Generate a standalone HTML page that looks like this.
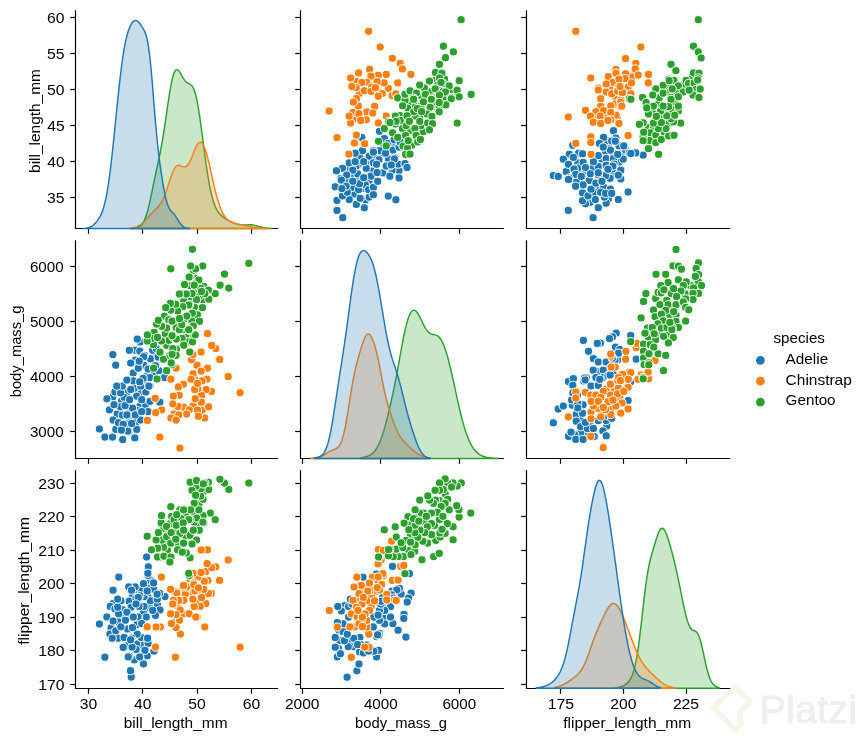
<!DOCTYPE html>
<html><head><meta charset="utf-8"><title>pairplot</title>
<style>
html,body{margin:0;padding:0;background:#fff;}
body{width:864px;height:741px;overflow:hidden;font-family:"Liberation Sans",sans-serif;}
svg{display:block;will-change:transform}
text{font-family:"Liberation Sans",sans-serif;font-size:14.3px;fill:#000}
</style></head><body>
<svg width="864" height="741" viewBox="0 0 864 741">
<rect width="864" height="741" fill="#fff"/>
<g opacity="1">
<path d="M735,687.5 L713,707.3 L735,729.5 L741.5,723.4 M735,687.5 L750,701.6 L740.2,711.4 L740.2,720" fill="none" stroke="#f3f7e8" stroke-width="5.6" stroke-linejoin="round" stroke-linecap="round"/>
<text x="759.5" y="722.5" style="font-size:38.5px;fill:#eeeeee;stroke:#eeeeee;stroke-width:0.8" textLength="97.5" lengthAdjust="spacingAndGlyphs">Platzi</text>
</g>
<g fill="#1f77b4" stroke="#fff" stroke-width="1.0">
<circle cx="365.6" cy="199.9" r="4.1"/>
<circle cx="349.7" cy="178.4" r="4.1"/>
<circle cx="380.2" cy="155.5" r="4.1"/>
<circle cx="369.0" cy="181.3" r="4.1"/>
<circle cx="388.4" cy="158.7" r="4.1"/>
<circle cx="382.7" cy="172.9" r="4.1"/>
<circle cx="394.9" cy="145.6" r="4.1"/>
<circle cx="353.5" cy="194.2" r="4.1"/>
<circle cx="371.9" cy="171.0" r="4.1"/>
<circle cx="374.2" cy="157.5" r="4.1"/>
<circle cx="362.9" cy="188.3" r="4.1"/>
<circle cx="352.9" cy="175.6" r="4.1"/>
<circle cx="368.4" cy="162.1" r="4.1"/>
<circle cx="359.0" cy="163.9" r="4.1"/>
<circle cx="399.0" cy="170.6" r="4.1"/>
<circle cx="358.5" cy="179.3" r="4.1"/>
<circle cx="346.4" cy="181.6" r="4.1"/>
<circle cx="355.9" cy="167.3" r="4.1"/>
<circle cx="347.5" cy="169.5" r="4.1"/>
<circle cx="392.0" cy="170.2" r="4.1"/>
<circle cx="365.4" cy="184.8" r="4.1"/>
<circle cx="383.2" cy="147.2" r="4.1"/>
<circle cx="352.7" cy="187.3" r="4.1"/>
<circle cx="379.5" cy="131.3" r="4.1"/>
<circle cx="361.9" cy="137.6" r="4.1"/>
<circle cx="359.5" cy="156.2" r="4.1"/>
<circle cx="369.2" cy="156.2" r="4.1"/>
<circle cx="379.5" cy="150.7" r="4.1"/>
<circle cx="378.9" cy="159.8" r="4.1"/>
<circle cx="392.9" cy="150.1" r="4.1"/>
<circle cx="389.8" cy="165.9" r="4.1"/>
<circle cx="398.3" cy="164.1" r="4.1"/>
<circle cx="405.0" cy="163.5" r="4.1"/>
<circle cx="349.2" cy="162.9" r="4.1"/>
<circle cx="342.5" cy="168.3" r="4.1"/>
<circle cx="336.4" cy="170.8" r="4.1"/>
<circle cx="357.7" cy="173.8" r="4.1"/>
<circle cx="366.2" cy="168.3" r="4.1"/>
<circle cx="352.8" cy="170.2" r="4.1"/>
<circle cx="371.0" cy="176.2" r="4.1"/>
<circle cx="389.8" cy="176.2" r="4.1"/>
<circle cx="399.0" cy="178.0" r="4.1"/>
<circle cx="340.6" cy="178.7" r="4.1"/>
<circle cx="384.4" cy="138.6" r="4.1"/>
<circle cx="388.0" cy="143.4" r="4.1"/>
<circle cx="399.0" cy="147.1" r="4.1"/>
<circle cx="373.4" cy="150.7" r="4.1"/>
<circle cx="362.5" cy="150.7" r="4.1"/>
<circle cx="355.2" cy="153.2" r="4.1"/>
<circle cx="373.4" cy="162.9" r="4.1"/>
<circle cx="363.7" cy="161.7" r="4.1"/>
<circle cx="355.2" cy="161.7" r="4.1"/>
<circle cx="377.1" cy="172.6" r="4.1"/>
<circle cx="346.7" cy="175.0" r="4.1"/>
<circle cx="395.3" cy="158.0" r="4.1"/>
<circle cx="385.6" cy="153.2" r="4.1"/>
<circle cx="394.1" cy="139.8" r="4.1"/>
<circle cx="400.2" cy="142.2" r="4.1"/>
<circle cx="342.8" cy="217.7" r="4.1"/>
<circle cx="337.0" cy="210.4" r="4.1"/>
<circle cx="337.0" cy="200.4" r="4.1"/>
<circle cx="335.2" cy="186.8" r="4.1"/>
<circle cx="356.4" cy="204.4" r="4.1"/>
<circle cx="364.3" cy="207.8" r="4.1"/>
<circle cx="349.2" cy="199.5" r="4.1"/>
<circle cx="342.5" cy="195.9" r="4.1"/>
<circle cx="369.2" cy="197.1" r="4.1"/>
<circle cx="388.3" cy="196.1" r="4.1"/>
<circle cx="395.9" cy="199.8" r="4.1"/>
<circle cx="347.3" cy="192.2" r="4.1"/>
<circle cx="358.6" cy="189.6" r="4.1"/>
<circle cx="368.6" cy="189.6" r="4.1"/>
<circle cx="341.3" cy="180.1" r="4.1"/>
<circle cx="359.5" cy="183.7" r="4.1"/>
<circle cx="352.8" cy="181.3" r="4.1"/>
<circle cx="373.4" cy="187.4" r="4.1"/>
<circle cx="376.5" cy="164.3" r="4.1"/>
<circle cx="377.7" cy="181.3" r="4.1"/>
<circle cx="373.4" cy="194.7" r="4.1"/>
<circle cx="360.1" cy="198.3" r="4.1"/>
<circle cx="346.1" cy="186.2" r="4.1"/>
<circle cx="373.4" cy="152.1" r="4.1"/>
<circle cx="386.2" cy="166.1" r="4.1"/>
<circle cx="363.7" cy="177.7" r="4.1"/>
<circle cx="341.9" cy="188.6" r="4.1"/>
<circle cx="394.3" cy="159.0" r="4.1"/>
<circle cx="391.2" cy="165.0" r="4.1"/>
<circle cx="407.0" cy="167.5" r="4.1"/>
</g>
<g fill="#ff7f0e" stroke="#fff" stroke-width="1.0">
<circle cx="358.3" cy="105.9" r="4.1"/>
<circle cx="359.3" cy="93.4" r="4.1"/>
<circle cx="388.3" cy="88.3" r="4.1"/>
<circle cx="356.1" cy="81.5" r="4.1"/>
<circle cx="353.5" cy="118.8" r="4.1"/>
<circle cx="378.0" cy="91.6" r="4.1"/>
<circle cx="368.6" cy="31.3" r="4.1"/>
<circle cx="380.2" cy="47.0" r="4.1"/>
<circle cx="392.3" cy="58.3" r="4.1"/>
<circle cx="400.2" cy="63.4" r="4.1"/>
<circle cx="402.4" cy="68.9" r="4.1"/>
<circle cx="410.9" cy="74.4" r="4.1"/>
<circle cx="369.6" cy="69.3" r="4.1"/>
<circle cx="358.6" cy="72.9" r="4.1"/>
<circle cx="350.6" cy="78.0" r="4.1"/>
<circle cx="386.2" cy="74.4" r="4.1"/>
<circle cx="378.3" cy="75.3" r="4.1"/>
<circle cx="371.0" cy="76.2" r="4.1"/>
<circle cx="384.1" cy="82.9" r="4.1"/>
<circle cx="397.7" cy="82.9" r="4.1"/>
<circle cx="366.8" cy="82.3" r="4.1"/>
<circle cx="361.9" cy="82.6" r="4.1"/>
<circle cx="356.2" cy="87.7" r="4.1"/>
<circle cx="351.8" cy="86.5" r="4.1"/>
<circle cx="371.6" cy="87.1" r="4.1"/>
<circle cx="364.3" cy="90.8" r="4.1"/>
<circle cx="371.0" cy="91.4" r="4.1"/>
<circle cx="382.2" cy="93.6" r="4.1"/>
<circle cx="378.3" cy="96.2" r="4.1"/>
<circle cx="392.3" cy="95.6" r="4.1"/>
<circle cx="395.9" cy="93.8" r="4.1"/>
<circle cx="356.4" cy="98.7" r="4.1"/>
<circle cx="377.1" cy="81.7" r="4.1"/>
<circle cx="375.3" cy="87.7" r="4.1"/>
<circle cx="329.1" cy="111.0" r="4.1"/>
<circle cx="353.4" cy="102.1" r="4.1"/>
<circle cx="374.7" cy="106.4" r="4.1"/>
<circle cx="366.8" cy="111.9" r="4.1"/>
<circle cx="352.8" cy="112.5" r="4.1"/>
<circle cx="358.9" cy="113.7" r="4.1"/>
<circle cx="372.8" cy="113.1" r="4.1"/>
<circle cx="366.2" cy="119.8" r="4.1"/>
<circle cx="360.7" cy="120.4" r="4.1"/>
<circle cx="350.6" cy="123.0" r="4.1"/>
<circle cx="378.3" cy="123.0" r="4.1"/>
<circle cx="386.2" cy="116.1" r="4.1"/>
<circle cx="356.4" cy="135.2" r="4.1"/>
<circle cx="337.0" cy="137.6" r="4.1"/>
<circle cx="354.4" cy="143.1" r="4.1"/>
<circle cx="364.7" cy="143.7" r="4.1"/>
<circle cx="348.9" cy="154.1" r="4.1"/>
<circle cx="349.1" cy="116.1" r="4.1"/>
</g>
<g fill="#2ca02c" stroke="#fff" stroke-width="1.0">
<circle cx="423.3" cy="131.7" r="4.1"/>
<circle cx="436.0" cy="97.4" r="4.1"/>
<circle cx="445.1" cy="97.1" r="4.1"/>
<circle cx="411.9" cy="145.2" r="4.1"/>
<circle cx="429.9" cy="91.9" r="4.1"/>
<circle cx="419.8" cy="115.8" r="4.1"/>
<circle cx="441.9" cy="89.0" r="4.1"/>
<circle cx="399.8" cy="115.5" r="4.1"/>
<circle cx="434.5" cy="106.0" r="4.1"/>
<circle cx="421.1" cy="105.8" r="4.1"/>
<circle cx="420.8" cy="125.7" r="4.1"/>
<circle cx="413.5" cy="104.6" r="4.1"/>
<circle cx="408.6" cy="97.5" r="4.1"/>
<circle cx="420.4" cy="95.4" r="4.1"/>
<circle cx="402.5" cy="128.5" r="4.1"/>
<circle cx="415.1" cy="115.9" r="4.1"/>
<circle cx="408.0" cy="103.3" r="4.1"/>
<circle cx="410.7" cy="130.3" r="4.1"/>
<circle cx="403.1" cy="146.1" r="4.1"/>
<circle cx="444.5" cy="79.0" r="4.1"/>
<circle cx="453.7" cy="93.8" r="4.1"/>
<circle cx="424.3" cy="87.9" r="4.1"/>
<circle cx="439.2" cy="107.0" r="4.1"/>
<circle cx="406.1" cy="125.6" r="4.1"/>
<circle cx="435.0" cy="80.4" r="4.1"/>
<circle cx="437.8" cy="85.1" r="4.1"/>
<circle cx="450.4" cy="91.0" r="4.1"/>
<circle cx="397.7" cy="97.9" r="4.1"/>
<circle cx="405.0" cy="100.3" r="4.1"/>
<circle cx="405.0" cy="94.3" r="4.1"/>
<circle cx="395.3" cy="116.1" r="4.1"/>
<circle cx="388.6" cy="121.6" r="4.1"/>
<circle cx="384.4" cy="128.6" r="4.1"/>
<circle cx="392.6" cy="132.8" r="4.1"/>
<circle cx="378.5" cy="141.3" r="4.1"/>
<circle cx="386.2" cy="145.9" r="4.1"/>
<circle cx="405.6" cy="135.5" r="4.1"/>
<circle cx="407.5" cy="148.3" r="4.1"/>
<circle cx="405.6" cy="154.4" r="4.1"/>
<circle cx="397.7" cy="137.4" r="4.1"/>
<circle cx="407.5" cy="108.2" r="4.1"/>
<circle cx="402.6" cy="105.8" r="4.1"/>
<circle cx="408.0" cy="119.2" r="4.1"/>
<circle cx="400.2" cy="120.4" r="4.1"/>
<circle cx="395.3" cy="124.0" r="4.1"/>
<circle cx="461.1" cy="19.7" r="4.1"/>
<circle cx="443.4" cy="46.2" r="4.1"/>
<circle cx="453.4" cy="51.9" r="4.1"/>
<circle cx="445.5" cy="57.7" r="4.1"/>
<circle cx="439.5" cy="64.3" r="4.1"/>
<circle cx="435.5" cy="72.6" r="4.1"/>
<circle cx="441.9" cy="73.2" r="4.1"/>
<circle cx="439.5" cy="78.0" r="4.1"/>
<circle cx="429.5" cy="81.1" r="4.1"/>
<circle cx="459.2" cy="80.7" r="4.1"/>
<circle cx="419.7" cy="85.1" r="4.1"/>
<circle cx="443.1" cy="83.5" r="4.1"/>
<circle cx="449.2" cy="85.9" r="4.1"/>
<circle cx="435.2" cy="88.9" r="4.1"/>
<circle cx="457.1" cy="90.2" r="4.1"/>
<circle cx="471.1" cy="94.4" r="4.1"/>
<circle cx="445.5" cy="92.0" r="4.1"/>
<circle cx="410.0" cy="90.8" r="4.1"/>
<circle cx="416.4" cy="93.2" r="4.1"/>
<circle cx="425.5" cy="94.4" r="4.1"/>
<circle cx="439.5" cy="95.0" r="4.1"/>
<circle cx="451.0" cy="97.5" r="4.1"/>
<circle cx="459.2" cy="96.8" r="4.1"/>
<circle cx="413.4" cy="98.1" r="4.1"/>
<circle cx="431.6" cy="98.1" r="4.1"/>
<circle cx="457.2" cy="123.1" r="4.1"/>
<circle cx="451.3" cy="98.8" r="4.1"/>
<circle cx="445.9" cy="104.9" r="4.1"/>
<circle cx="439.2" cy="102.5" r="4.1"/>
<circle cx="439.2" cy="111.8" r="4.1"/>
<circle cx="431.3" cy="99.4" r="4.1"/>
<circle cx="423.4" cy="101.9" r="4.1"/>
<circle cx="413.7" cy="99.4" r="4.1"/>
<circle cx="430.1" cy="107.3" r="4.1"/>
<circle cx="427.0" cy="114.0" r="4.1"/>
<circle cx="413.7" cy="111.8" r="4.1"/>
<circle cx="417.3" cy="108.5" r="4.1"/>
<circle cx="407.0" cy="115.8" r="4.1"/>
<circle cx="409.4" cy="121.3" r="4.1"/>
<circle cx="419.8" cy="121.3" r="4.1"/>
<circle cx="427.7" cy="123.1" r="4.1"/>
<circle cx="431.9" cy="116.4" r="4.1"/>
<circle cx="432.5" cy="123.7" r="4.1"/>
<circle cx="429.5" cy="129.8" r="4.1"/>
<circle cx="414.9" cy="128.6" r="4.1"/>
<circle cx="396.1" cy="121.3" r="4.1"/>
<circle cx="416.1" cy="135.3" r="4.1"/>
<circle cx="417.7" cy="141.9" r="4.1"/>
<circle cx="420.4" cy="139.5" r="4.1"/>
<circle cx="410.0" cy="154.1" r="4.1"/>
<circle cx="408.2" cy="140.7" r="4.1"/>
<circle cx="441.0" cy="82.4" r="4.1"/>
<circle cx="421.6" cy="111.6" r="4.1"/>
<circle cx="390.0" cy="122.5" r="4.1"/>
</g>
<g fill="#1f77b4" stroke="#fff" stroke-width="1.0">
<circle cx="582.5" cy="192.8" r="4.1"/>
<circle cx="566.3" cy="171.5" r="4.1"/>
<circle cx="576.7" cy="181.0" r="4.1"/>
<circle cx="577.8" cy="162.9" r="4.1"/>
<circle cx="608.0" cy="145.7" r="4.1"/>
<circle cx="622.6" cy="153.2" r="4.1"/>
<circle cx="601.8" cy="159.0" r="4.1"/>
<circle cx="597.5" cy="189.0" r="4.1"/>
<circle cx="605.4" cy="151.2" r="4.1"/>
<circle cx="594.8" cy="192.8" r="4.1"/>
<circle cx="613.8" cy="173.8" r="4.1"/>
<circle cx="590.2" cy="202.2" r="4.1"/>
<circle cx="607.2" cy="140.7" r="4.1"/>
<circle cx="592.6" cy="168.3" r="4.1"/>
<circle cx="613.2" cy="153.2" r="4.1"/>
<circle cx="589.4" cy="180.5" r="4.1"/>
<circle cx="610.1" cy="178.4" r="4.1"/>
<circle cx="603.7" cy="187.1" r="4.1"/>
<circle cx="618.5" cy="166.6" r="4.1"/>
<circle cx="569.3" cy="154.3" r="4.1"/>
<circle cx="608.4" cy="199.1" r="4.1"/>
<circle cx="578.2" cy="168.2" r="4.1"/>
<circle cx="618.9" cy="162.1" r="4.1"/>
<circle cx="613.5" cy="130.7" r="4.1"/>
<circle cx="617.1" cy="117.7" r="4.1"/>
<circle cx="603.5" cy="137.4" r="4.1"/>
<circle cx="615.9" cy="138.0" r="4.1"/>
<circle cx="572.8" cy="145.3" r="4.1"/>
<circle cx="599.5" cy="143.4" r="4.1"/>
<circle cx="610.4" cy="150.1" r="4.1"/>
<circle cx="625.6" cy="150.1" r="4.1"/>
<circle cx="578.6" cy="153.2" r="4.1"/>
<circle cx="573.4" cy="157.4" r="4.1"/>
<circle cx="563.3" cy="159.2" r="4.1"/>
<circle cx="598.3" cy="155.6" r="4.1"/>
<circle cx="606.2" cy="158.6" r="4.1"/>
<circle cx="613.5" cy="158.6" r="4.1"/>
<circle cx="623.2" cy="159.2" r="4.1"/>
<circle cx="568.5" cy="164.3" r="4.1"/>
<circle cx="583.1" cy="162.3" r="4.1"/>
<circle cx="585.5" cy="167.7" r="4.1"/>
<circle cx="598.3" cy="166.5" r="4.1"/>
<circle cx="574.0" cy="169.0" r="4.1"/>
<circle cx="575.8" cy="174.4" r="4.1"/>
<circle cx="553.4" cy="175.6" r="4.1"/>
<circle cx="558.2" cy="176.5" r="4.1"/>
<circle cx="590.4" cy="173.8" r="4.1"/>
<circle cx="605.6" cy="175.6" r="4.1"/>
<circle cx="612.3" cy="169.0" r="4.1"/>
<circle cx="620.8" cy="170.2" r="4.1"/>
<circle cx="619.6" cy="177.5" r="4.1"/>
<circle cx="569.1" cy="178.1" r="4.1"/>
<circle cx="611.7" cy="141.0" r="4.1"/>
<circle cx="619.0" cy="145.9" r="4.1"/>
<circle cx="603.2" cy="147.1" r="4.1"/>
<circle cx="582.5" cy="153.8" r="4.1"/>
<circle cx="593.4" cy="161.7" r="4.1"/>
<circle cx="606.2" cy="165.3" r="4.1"/>
<circle cx="614.1" cy="164.1" r="4.1"/>
<circle cx="623.8" cy="145.9" r="4.1"/>
<circle cx="629.3" cy="153.2" r="4.1"/>
<circle cx="617.7" cy="154.4" r="4.1"/>
<circle cx="582.5" cy="175.0" r="4.1"/>
<circle cx="598.3" cy="175.0" r="4.1"/>
<circle cx="593.1" cy="217.7" r="4.1"/>
<circle cx="568.3" cy="210.4" r="4.1"/>
<circle cx="598.3" cy="207.7" r="4.1"/>
<circle cx="585.5" cy="203.8" r="4.1"/>
<circle cx="582.5" cy="200.7" r="4.1"/>
<circle cx="606.2" cy="203.2" r="4.1"/>
<circle cx="618.3" cy="199.5" r="4.1"/>
<circle cx="628.1" cy="192.0" r="4.1"/>
<circle cx="595.3" cy="199.5" r="4.1"/>
<circle cx="604.4" cy="197.1" r="4.1"/>
<circle cx="588.0" cy="195.9" r="4.1"/>
<circle cx="600.7" cy="192.2" r="4.1"/>
<circle cx="610.4" cy="189.2" r="4.1"/>
<circle cx="591.0" cy="189.2" r="4.1"/>
<circle cx="583.1" cy="184.9" r="4.1"/>
<circle cx="575.6" cy="186.2" r="4.1"/>
<circle cx="595.9" cy="183.1" r="4.1"/>
<circle cx="620.8" cy="178.9" r="4.1"/>
<circle cx="618.3" cy="175.2" r="4.1"/>
<circle cx="568.5" cy="179.5" r="4.1"/>
<circle cx="581.3" cy="176.4" r="4.1"/>
<circle cx="612.9" cy="166.1" r="4.1"/>
<circle cx="601.9" cy="181.3" r="4.1"/>
<circle cx="598.3" cy="172.8" r="4.1"/>
<circle cx="608.0" cy="169.2" r="4.1"/>
<circle cx="615.3" cy="141.2" r="4.1"/>
<circle cx="605.6" cy="193.4" r="4.1"/>
<circle cx="611.7" cy="193.4" r="4.1"/>
<circle cx="649.2" cy="131.6" r="4.1"/>
<circle cx="643.1" cy="155.1" r="4.1"/>
<circle cx="635.8" cy="152.9" r="4.1"/>
<circle cx="630.9" cy="153.5" r="4.1"/>
</g>
<g fill="#ff7f0e" stroke="#fff" stroke-width="1.0">
<circle cx="616.2" cy="99.4" r="4.1"/>
<circle cx="615.7" cy="103.9" r="4.1"/>
<circle cx="600.7" cy="106.3" r="4.1"/>
<circle cx="616.1" cy="115.2" r="4.1"/>
<circle cx="609.7" cy="88.2" r="4.1"/>
<circle cx="594.6" cy="117.6" r="4.1"/>
<circle cx="632.3" cy="76.8" r="4.1"/>
<circle cx="625.5" cy="97.5" r="4.1"/>
<circle cx="607.1" cy="115.5" r="4.1"/>
<circle cx="575.8" cy="31.3" r="4.1"/>
<circle cx="625.6" cy="58.6" r="4.1"/>
<circle cx="590.8" cy="78.0" r="4.1"/>
<circle cx="615.9" cy="69.5" r="4.1"/>
<circle cx="615.9" cy="73.2" r="4.1"/>
<circle cx="608.3" cy="76.6" r="4.1"/>
<circle cx="625.6" cy="73.8" r="4.1"/>
<circle cx="625.0" cy="78.6" r="4.1"/>
<circle cx="612.9" cy="82.3" r="4.1"/>
<circle cx="606.2" cy="84.1" r="4.1"/>
<circle cx="598.3" cy="88.1" r="4.1"/>
<circle cx="618.3" cy="87.1" r="4.1"/>
<circle cx="606.2" cy="92.0" r="4.1"/>
<circle cx="611.7" cy="93.8" r="4.1"/>
<circle cx="628.1" cy="87.1" r="4.1"/>
<circle cx="623.8" cy="92.6" r="4.1"/>
<circle cx="600.7" cy="98.7" r="4.1"/>
<circle cx="620.8" cy="99.9" r="4.1"/>
<circle cx="619.0" cy="79.2" r="4.1"/>
<circle cx="568.3" cy="117.0" r="4.1"/>
<circle cx="585.5" cy="110.3" r="4.1"/>
<circle cx="595.9" cy="111.6" r="4.1"/>
<circle cx="603.5" cy="110.6" r="4.1"/>
<circle cx="610.8" cy="105.8" r="4.1"/>
<circle cx="610.8" cy="112.5" r="4.1"/>
<circle cx="620.8" cy="102.1" r="4.1"/>
<circle cx="620.8" cy="107.0" r="4.1"/>
<circle cx="590.4" cy="116.1" r="4.1"/>
<circle cx="600.1" cy="116.1" r="4.1"/>
<circle cx="593.4" cy="122.2" r="4.1"/>
<circle cx="600.7" cy="123.4" r="4.1"/>
<circle cx="610.8" cy="119.8" r="4.1"/>
<circle cx="619.0" cy="123.4" r="4.1"/>
<circle cx="628.1" cy="135.5" r="4.1"/>
<circle cx="590.8" cy="136.8" r="4.1"/>
<circle cx="590.8" cy="142.5" r="4.1"/>
<circle cx="575.8" cy="143.4" r="4.1"/>
<circle cx="591.0" cy="154.4" r="4.1"/>
<circle cx="598.3" cy="90.0" r="4.1"/>
<circle cx="617.7" cy="91.2" r="4.1"/>
<circle cx="608.0" cy="120.4" r="4.1"/>
<circle cx="640.9" cy="47.0" r="4.1"/>
<circle cx="635.8" cy="63.4" r="4.1"/>
<circle cx="635.2" cy="68.9" r="4.1"/>
<circle cx="638.2" cy="75.0" r="4.1"/>
<circle cx="648.5" cy="74.4" r="4.1"/>
<circle cx="648.3" cy="82.9" r="4.1"/>
<circle cx="631.5" cy="82.9" r="4.1"/>
<circle cx="630.9" cy="93.8" r="4.1"/>
<circle cx="622.4" cy="92.6" r="4.1"/>
<circle cx="620.0" cy="86.5" r="4.1"/>
<circle cx="621.8" cy="106.1" r="4.1"/>
</g>
<g fill="#2ca02c" stroke="#fff" stroke-width="1.0">
<circle cx="683.4" cy="85.3" r="4.1"/>
<circle cx="648.2" cy="127.6" r="4.1"/>
<circle cx="668.1" cy="123.7" r="4.1"/>
<circle cx="692.4" cy="77.2" r="4.1"/>
<circle cx="653.3" cy="128.5" r="4.1"/>
<circle cx="650.3" cy="132.8" r="4.1"/>
<circle cx="674.3" cy="103.1" r="4.1"/>
<circle cx="667.7" cy="85.6" r="4.1"/>
<circle cx="658.8" cy="103.3" r="4.1"/>
<circle cx="659.4" cy="97.5" r="4.1"/>
<circle cx="664.5" cy="133.0" r="4.1"/>
<circle cx="649.7" cy="140.5" r="4.1"/>
<circle cx="676.6" cy="92.6" r="4.1"/>
<circle cx="662.0" cy="118.0" r="4.1"/>
<circle cx="671.8" cy="109.5" r="4.1"/>
<circle cx="653.0" cy="113.2" r="4.1"/>
<circle cx="669.2" cy="92.4" r="4.1"/>
<circle cx="665.1" cy="109.8" r="4.1"/>
<circle cx="629.3" cy="98.7" r="4.1"/>
<circle cx="698.3" cy="19.7" r="4.1"/>
<circle cx="693.5" cy="46.2" r="4.1"/>
<circle cx="698.3" cy="51.9" r="4.1"/>
<circle cx="701.1" cy="58.0" r="4.1"/>
<circle cx="671.0" cy="64.3" r="4.1"/>
<circle cx="675.9" cy="70.7" r="4.1"/>
<circle cx="693.5" cy="72.9" r="4.1"/>
<circle cx="699.0" cy="73.2" r="4.1"/>
<circle cx="698.3" cy="78.0" r="4.1"/>
<circle cx="668.6" cy="79.2" r="4.1"/>
<circle cx="674.0" cy="80.4" r="4.1"/>
<circle cx="686.2" cy="80.4" r="4.1"/>
<circle cx="663.1" cy="85.3" r="4.1"/>
<circle cx="678.3" cy="85.9" r="4.1"/>
<circle cx="688.6" cy="83.5" r="4.1"/>
<circle cx="694.1" cy="82.9" r="4.1"/>
<circle cx="655.8" cy="88.9" r="4.1"/>
<circle cx="672.2" cy="88.9" r="4.1"/>
<circle cx="695.9" cy="89.6" r="4.1"/>
<circle cx="663.1" cy="93.2" r="4.1"/>
<circle cx="683.2" cy="92.0" r="4.1"/>
<circle cx="652.8" cy="95.0" r="4.1"/>
<circle cx="642.5" cy="97.5" r="4.1"/>
<circle cx="671.0" cy="97.5" r="4.1"/>
<circle cx="678.3" cy="96.8" r="4.1"/>
<circle cx="692.9" cy="95.0" r="4.1"/>
<circle cx="699.0" cy="97.5" r="4.1"/>
<circle cx="630.9" cy="99.3" r="4.1"/>
<circle cx="700.2" cy="89.0" r="4.1"/>
<circle cx="689.2" cy="90.2" r="4.1"/>
<circle cx="658.6" cy="154.3" r="4.1"/>
<circle cx="648.5" cy="148.6" r="4.1"/>
<circle cx="643.1" cy="137.1" r="4.1"/>
<circle cx="643.1" cy="140.7" r="4.1"/>
<circle cx="643.7" cy="132.2" r="4.1"/>
<circle cx="655.8" cy="135.3" r="4.1"/>
<circle cx="655.8" cy="142.6" r="4.1"/>
<circle cx="661.3" cy="139.5" r="4.1"/>
<circle cx="668.6" cy="135.9" r="4.1"/>
<circle cx="674.0" cy="135.3" r="4.1"/>
<circle cx="665.9" cy="128.6" r="4.1"/>
<circle cx="658.3" cy="128.6" r="4.1"/>
<circle cx="680.7" cy="123.1" r="4.1"/>
<circle cx="643.1" cy="122.8" r="4.1"/>
<circle cx="639.4" cy="124.3" r="4.1"/>
<circle cx="653.4" cy="123.1" r="4.1"/>
<circle cx="661.3" cy="122.5" r="4.1"/>
<circle cx="673.4" cy="121.9" r="4.1"/>
<circle cx="671.0" cy="118.9" r="4.1"/>
<circle cx="666.8" cy="115.8" r="4.1"/>
<circle cx="648.5" cy="114.0" r="4.1"/>
<circle cx="660.7" cy="111.0" r="4.1"/>
<circle cx="678.3" cy="111.0" r="4.1"/>
<circle cx="653.4" cy="106.1" r="4.1"/>
<circle cx="646.1" cy="102.5" r="4.1"/>
<circle cx="671.0" cy="99.4" r="4.1"/>
<circle cx="669.2" cy="80.6" r="4.1"/>
<circle cx="697.7" cy="80.0" r="4.1"/>
<circle cx="668.6" cy="106.7" r="4.1"/>
<circle cx="663.1" cy="106.1" r="4.1"/>
<circle cx="674.7" cy="115.2" r="4.1"/>
<circle cx="656.4" cy="116.4" r="4.1"/>
<circle cx="646.7" cy="107.9" r="4.1"/>
<circle cx="678.3" cy="106.1" r="4.1"/>
</g>
<g fill="#1f77b4" stroke="#fff" stroke-width="1.0">
<circle cx="112.8" cy="397.0" r="4.1"/>
<circle cx="129.0" cy="419.3" r="4.1"/>
<circle cx="146.4" cy="376.6" r="4.1"/>
<circle cx="126.8" cy="392.2" r="4.1"/>
<circle cx="143.9" cy="365.2" r="4.1"/>
<circle cx="133.2" cy="373.0" r="4.1"/>
<circle cx="153.8" cy="356.0" r="4.1"/>
<circle cx="117.1" cy="414.0" r="4.1"/>
<circle cx="134.6" cy="388.2" r="4.1"/>
<circle cx="144.8" cy="384.9" r="4.1"/>
<circle cx="121.6" cy="400.9" r="4.1"/>
<circle cx="131.2" cy="414.8" r="4.1"/>
<circle cx="141.3" cy="393.1" r="4.1"/>
<circle cx="140.0" cy="406.3" r="4.1"/>
<circle cx="134.9" cy="350.2" r="4.1"/>
<circle cx="128.4" cy="407.0" r="4.1"/>
<circle cx="126.6" cy="423.9" r="4.1"/>
<circle cx="137.4" cy="410.6" r="4.1"/>
<circle cx="135.8" cy="422.3" r="4.1"/>
<circle cx="135.3" cy="360.1" r="4.1"/>
<circle cx="124.2" cy="397.3" r="4.1"/>
<circle cx="152.6" cy="372.4" r="4.1"/>
<circle cx="122.3" cy="415.1" r="4.1"/>
<circle cx="164.6" cy="377.6" r="4.1"/>
<circle cx="159.8" cy="402.2" r="4.1"/>
<circle cx="145.8" cy="405.6" r="4.1"/>
<circle cx="145.8" cy="392.0" r="4.1"/>
<circle cx="150.0" cy="377.6" r="4.1"/>
<circle cx="143.1" cy="378.4" r="4.1"/>
<circle cx="150.4" cy="358.8" r="4.1"/>
<circle cx="138.5" cy="363.1" r="4.1"/>
<circle cx="139.8" cy="351.2" r="4.1"/>
<circle cx="140.3" cy="341.9" r="4.1"/>
<circle cx="140.7" cy="420.0" r="4.1"/>
<circle cx="136.7" cy="429.4" r="4.1"/>
<circle cx="134.8" cy="437.9" r="4.1"/>
<circle cx="132.5" cy="408.1" r="4.1"/>
<circle cx="136.7" cy="396.2" r="4.1"/>
<circle cx="135.2" cy="414.9" r="4.1"/>
<circle cx="130.7" cy="389.5" r="4.1"/>
<circle cx="130.7" cy="363.1" r="4.1"/>
<circle cx="129.4" cy="350.3" r="4.1"/>
<circle cx="128.8" cy="432.0" r="4.1"/>
<circle cx="159.1" cy="370.7" r="4.1"/>
<circle cx="155.5" cy="365.7" r="4.1"/>
<circle cx="152.7" cy="350.3" r="4.1"/>
<circle cx="150.0" cy="386.1" r="4.1"/>
<circle cx="150.0" cy="401.4" r="4.1"/>
<circle cx="148.1" cy="411.6" r="4.1"/>
<circle cx="140.7" cy="386.1" r="4.1"/>
<circle cx="141.7" cy="399.7" r="4.1"/>
<circle cx="141.7" cy="411.6" r="4.1"/>
<circle cx="133.4" cy="380.9" r="4.1"/>
<circle cx="131.6" cy="423.5" r="4.1"/>
<circle cx="144.4" cy="355.4" r="4.1"/>
<circle cx="148.1" cy="369.0" r="4.1"/>
<circle cx="158.2" cy="357.1" r="4.1"/>
<circle cx="156.4" cy="348.6" r="4.1"/>
<circle cx="99.4" cy="429.0" r="4.1"/>
<circle cx="104.9" cy="437.1" r="4.1"/>
<circle cx="112.5" cy="437.1" r="4.1"/>
<circle cx="122.7" cy="439.6" r="4.1"/>
<circle cx="109.4" cy="409.9" r="4.1"/>
<circle cx="106.9" cy="398.8" r="4.1"/>
<circle cx="113.1" cy="420.0" r="4.1"/>
<circle cx="115.8" cy="429.4" r="4.1"/>
<circle cx="114.9" cy="392.0" r="4.1"/>
<circle cx="115.7" cy="365.2" r="4.1"/>
<circle cx="112.9" cy="354.6" r="4.1"/>
<circle cx="118.6" cy="422.7" r="4.1"/>
<circle cx="120.6" cy="406.8" r="4.1"/>
<circle cx="120.6" cy="392.8" r="4.1"/>
<circle cx="127.8" cy="431.1" r="4.1"/>
<circle cx="125.1" cy="405.6" r="4.1"/>
<circle cx="126.9" cy="414.9" r="4.1"/>
<circle cx="122.3" cy="386.1" r="4.1"/>
<circle cx="139.7" cy="381.8" r="4.1"/>
<circle cx="126.9" cy="380.1" r="4.1"/>
<circle cx="116.8" cy="386.1" r="4.1"/>
<circle cx="114.0" cy="404.7" r="4.1"/>
<circle cx="123.2" cy="424.3" r="4.1"/>
<circle cx="148.9" cy="386.1" r="4.1"/>
<circle cx="138.3" cy="368.2" r="4.1"/>
<circle cx="129.6" cy="399.7" r="4.1"/>
<circle cx="121.4" cy="430.2" r="4.1"/>
<circle cx="143.7" cy="356.8" r="4.1"/>
<circle cx="139.2" cy="361.2" r="4.1"/>
<circle cx="137.3" cy="339.1" r="4.1"/>
</g>
<g fill="#ff7f0e" stroke="#fff" stroke-width="1.0">
<circle cx="183.8" cy="407.2" r="4.1"/>
<circle cx="193.2" cy="405.9" r="4.1"/>
<circle cx="197.0" cy="365.2" r="4.1"/>
<circle cx="202.2" cy="410.3" r="4.1"/>
<circle cx="174.0" cy="413.9" r="4.1"/>
<circle cx="194.6" cy="379.6" r="4.1"/>
<circle cx="240.1" cy="392.8" r="4.1"/>
<circle cx="228.2" cy="376.6" r="4.1"/>
<circle cx="219.7" cy="359.6" r="4.1"/>
<circle cx="215.8" cy="348.6" r="4.1"/>
<circle cx="211.7" cy="345.5" r="4.1"/>
<circle cx="207.5" cy="333.6" r="4.1"/>
<circle cx="211.4" cy="391.4" r="4.1"/>
<circle cx="208.7" cy="406.8" r="4.1"/>
<circle cx="204.8" cy="418.0" r="4.1"/>
<circle cx="207.5" cy="368.2" r="4.1"/>
<circle cx="206.9" cy="379.2" r="4.1"/>
<circle cx="206.2" cy="389.5" r="4.1"/>
<circle cx="201.1" cy="371.1" r="4.1"/>
<circle cx="201.1" cy="352.1" r="4.1"/>
<circle cx="201.6" cy="395.3" r="4.1"/>
<circle cx="201.3" cy="402.2" r="4.1"/>
<circle cx="197.5" cy="410.2" r="4.1"/>
<circle cx="198.4" cy="416.3" r="4.1"/>
<circle cx="197.9" cy="388.6" r="4.1"/>
<circle cx="195.2" cy="398.8" r="4.1"/>
<circle cx="194.7" cy="389.5" r="4.1"/>
<circle cx="193.0" cy="373.8" r="4.1"/>
<circle cx="191.1" cy="379.2" r="4.1"/>
<circle cx="191.5" cy="359.6" r="4.1"/>
<circle cx="192.9" cy="354.6" r="4.1"/>
<circle cx="189.2" cy="409.9" r="4.1"/>
<circle cx="202.0" cy="380.9" r="4.1"/>
<circle cx="197.5" cy="383.4" r="4.1"/>
<circle cx="179.9" cy="448.1" r="4.1"/>
<circle cx="186.6" cy="414.1" r="4.1"/>
<circle cx="183.4" cy="384.3" r="4.1"/>
<circle cx="179.2" cy="395.3" r="4.1"/>
<circle cx="178.8" cy="414.9" r="4.1"/>
<circle cx="177.9" cy="406.4" r="4.1"/>
<circle cx="178.3" cy="386.9" r="4.1"/>
<circle cx="173.3" cy="396.2" r="4.1"/>
<circle cx="172.8" cy="403.9" r="4.1"/>
<circle cx="170.9" cy="418.0" r="4.1"/>
<circle cx="170.9" cy="379.2" r="4.1"/>
<circle cx="176.1" cy="368.2" r="4.1"/>
<circle cx="161.7" cy="409.9" r="4.1"/>
<circle cx="159.8" cy="437.1" r="4.1"/>
<circle cx="155.7" cy="412.7" r="4.1"/>
<circle cx="155.2" cy="398.3" r="4.1"/>
<circle cx="147.4" cy="420.4" r="4.1"/>
<circle cx="176.1" cy="420.1" r="4.1"/>
</g>
<g fill="#2ca02c" stroke="#fff" stroke-width="1.0">
<circle cx="164.3" cy="316.2" r="4.1"/>
<circle cx="190.1" cy="298.4" r="4.1"/>
<circle cx="190.4" cy="285.7" r="4.1"/>
<circle cx="154.1" cy="332.3" r="4.1"/>
<circle cx="194.4" cy="307.0" r="4.1"/>
<circle cx="176.3" cy="321.2" r="4.1"/>
<circle cx="196.5" cy="290.2" r="4.1"/>
<circle cx="176.5" cy="349.1" r="4.1"/>
<circle cx="183.7" cy="300.5" r="4.1"/>
<circle cx="183.8" cy="319.4" r="4.1"/>
<circle cx="168.8" cy="319.7" r="4.1"/>
<circle cx="184.7" cy="329.9" r="4.1"/>
<circle cx="190.1" cy="336.8" r="4.1"/>
<circle cx="191.7" cy="320.4" r="4.1"/>
<circle cx="166.7" cy="345.4" r="4.1"/>
<circle cx="176.2" cy="327.8" r="4.1"/>
<circle cx="185.8" cy="337.6" r="4.1"/>
<circle cx="165.3" cy="333.9" r="4.1"/>
<circle cx="153.4" cy="344.6" r="4.1"/>
<circle cx="204.0" cy="286.5" r="4.1"/>
<circle cx="192.9" cy="273.6" r="4.1"/>
<circle cx="197.4" cy="314.8" r="4.1"/>
<circle cx="182.9" cy="294.0" r="4.1"/>
<circle cx="168.9" cy="340.3" r="4.1"/>
<circle cx="203.0" cy="299.9" r="4.1"/>
<circle cx="199.4" cy="296.0" r="4.1"/>
<circle cx="195.0" cy="278.3" r="4.1"/>
<circle cx="189.8" cy="352.1" r="4.1"/>
<circle cx="188.0" cy="341.9" r="4.1"/>
<circle cx="192.5" cy="341.9" r="4.1"/>
<circle cx="176.1" cy="355.4" r="4.1"/>
<circle cx="171.9" cy="364.8" r="4.1"/>
<circle cx="166.6" cy="370.7" r="4.1"/>
<circle cx="163.5" cy="359.2" r="4.1"/>
<circle cx="157.0" cy="379.0" r="4.1"/>
<circle cx="153.6" cy="368.2" r="4.1"/>
<circle cx="161.4" cy="341.0" r="4.1"/>
<circle cx="151.8" cy="338.4" r="4.1"/>
<circle cx="147.2" cy="341.0" r="4.1"/>
<circle cx="160.0" cy="352.1" r="4.1"/>
<circle cx="182.0" cy="338.4" r="4.1"/>
<circle cx="183.8" cy="345.2" r="4.1"/>
<circle cx="173.7" cy="337.7" r="4.1"/>
<circle cx="172.8" cy="348.6" r="4.1"/>
<circle cx="170.1" cy="355.4" r="4.1"/>
<circle cx="248.8" cy="263.3" r="4.1"/>
<circle cx="228.8" cy="288.1" r="4.1"/>
<circle cx="224.5" cy="274.1" r="4.1"/>
<circle cx="220.1" cy="285.2" r="4.1"/>
<circle cx="215.2" cy="293.6" r="4.1"/>
<circle cx="208.9" cy="299.2" r="4.1"/>
<circle cx="208.4" cy="290.2" r="4.1"/>
<circle cx="204.8" cy="293.6" r="4.1"/>
<circle cx="202.5" cy="307.6" r="4.1"/>
<circle cx="202.8" cy="266.0" r="4.1"/>
<circle cx="199.5" cy="321.3" r="4.1"/>
<circle cx="200.7" cy="288.5" r="4.1"/>
<circle cx="198.9" cy="280.0" r="4.1"/>
<circle cx="196.6" cy="299.6" r="4.1"/>
<circle cx="195.6" cy="268.9" r="4.1"/>
<circle cx="192.4" cy="249.3" r="4.1"/>
<circle cx="194.2" cy="285.2" r="4.1"/>
<circle cx="195.2" cy="334.9" r="4.1"/>
<circle cx="193.3" cy="325.9" r="4.1"/>
<circle cx="192.4" cy="313.2" r="4.1"/>
<circle cx="192.0" cy="293.6" r="4.1"/>
<circle cx="190.1" cy="277.4" r="4.1"/>
<circle cx="190.6" cy="266.0" r="4.1"/>
<circle cx="189.6" cy="330.1" r="4.1"/>
<circle cx="189.6" cy="304.6" r="4.1"/>
<circle cx="170.8" cy="268.8" r="4.1"/>
<circle cx="189.1" cy="277.0" r="4.1"/>
<circle cx="184.5" cy="284.6" r="4.1"/>
<circle cx="186.3" cy="294.0" r="4.1"/>
<circle cx="179.3" cy="294.0" r="4.1"/>
<circle cx="188.7" cy="305.0" r="4.1"/>
<circle cx="186.8" cy="316.1" r="4.1"/>
<circle cx="188.7" cy="329.7" r="4.1"/>
<circle cx="182.7" cy="306.7" r="4.1"/>
<circle cx="177.6" cy="311.1" r="4.1"/>
<circle cx="179.3" cy="329.7" r="4.1"/>
<circle cx="181.8" cy="324.6" r="4.1"/>
<circle cx="176.3" cy="339.1" r="4.1"/>
<circle cx="172.1" cy="335.7" r="4.1"/>
<circle cx="172.1" cy="321.1" r="4.1"/>
<circle cx="170.8" cy="310.1" r="4.1"/>
<circle cx="175.8" cy="304.2" r="4.1"/>
<circle cx="170.3" cy="303.4" r="4.1"/>
<circle cx="165.7" cy="307.6" r="4.1"/>
<circle cx="166.6" cy="328.0" r="4.1"/>
<circle cx="172.1" cy="354.3" r="4.1"/>
<circle cx="161.6" cy="326.3" r="4.1"/>
<circle cx="156.6" cy="324.1" r="4.1"/>
<circle cx="158.4" cy="320.3" r="4.1"/>
<circle cx="147.4" cy="334.9" r="4.1"/>
<circle cx="157.5" cy="337.4" r="4.1"/>
<circle cx="201.5" cy="291.5" r="4.1"/>
<circle cx="179.5" cy="318.6" r="4.1"/>
<circle cx="171.2" cy="362.9" r="4.1"/>
</g>
<g fill="#1f77b4" stroke="#fff" stroke-width="1.0">
<circle cx="577.5" cy="395.4" r="4.1"/>
<circle cx="589.8" cy="423.0" r="4.1"/>
<circle cx="597.6" cy="371.8" r="4.1"/>
<circle cx="613.3" cy="366.1" r="4.1"/>
<circle cx="580.4" cy="419.2" r="4.1"/>
<circle cx="588.6" cy="434.4" r="4.1"/>
<circle cx="607.9" cy="368.9" r="4.1"/>
<circle cx="606.8" cy="426.1" r="4.1"/>
<circle cx="580.8" cy="432.6" r="4.1"/>
<circle cx="572.3" cy="405.2" r="4.1"/>
<circle cx="613.1" cy="353.8" r="4.1"/>
<circle cx="574.8" cy="434.9" r="4.1"/>
<circle cx="553.4" cy="422.8" r="4.1"/>
<circle cx="558.2" cy="409.0" r="4.1"/>
<circle cx="563.3" cy="406.0" r="4.1"/>
<circle cx="568.5" cy="381.5" r="4.1"/>
<circle cx="573.4" cy="378.7" r="4.1"/>
<circle cx="573.4" cy="387.2" r="4.1"/>
<circle cx="568.5" cy="436.4" r="4.1"/>
<circle cx="571.0" cy="432.1" r="4.1"/>
<circle cx="575.8" cy="439.4" r="4.1"/>
<circle cx="583.1" cy="439.4" r="4.1"/>
<circle cx="576.2" cy="414.5" r="4.1"/>
<circle cx="576.2" cy="421.2" r="4.1"/>
<circle cx="578.9" cy="407.2" r="4.1"/>
<circle cx="583.1" cy="404.8" r="4.1"/>
<circle cx="580.7" cy="426.7" r="4.1"/>
<circle cx="583.7" cy="381.1" r="4.1"/>
<circle cx="586.2" cy="377.5" r="4.1"/>
<circle cx="593.4" cy="358.6" r="4.1"/>
<circle cx="598.3" cy="362.0" r="4.1"/>
<circle cx="606.2" cy="362.0" r="4.1"/>
<circle cx="593.2" cy="370.2" r="4.1"/>
<circle cx="603.2" cy="370.2" r="4.1"/>
<circle cx="598.3" cy="381.1" r="4.1"/>
<circle cx="595.9" cy="377.5" r="4.1"/>
<circle cx="591.0" cy="386.0" r="4.1"/>
<circle cx="603.2" cy="377.5" r="4.1"/>
<circle cx="628.1" cy="400.5" r="4.1"/>
<circle cx="619.6" cy="402.4" r="4.1"/>
<circle cx="587.4" cy="428.5" r="4.1"/>
<circle cx="593.4" cy="428.5" r="4.1"/>
<circle cx="602.9" cy="430.9" r="4.1"/>
<circle cx="606.2" cy="435.8" r="4.1"/>
<circle cx="606.2" cy="420.6" r="4.1"/>
<circle cx="582.5" cy="413.3" r="4.1"/>
<circle cx="585.5" cy="422.4" r="4.1"/>
<circle cx="571.6" cy="399.9" r="4.1"/>
<circle cx="612.9" cy="359.9" r="4.1"/>
<circle cx="617.7" cy="359.9" r="4.1"/>
<circle cx="612.9" cy="373.2" r="4.1"/>
<circle cx="608.0" cy="375.6" r="4.1"/>
<circle cx="572.8" cy="385.4" r="4.1"/>
<circle cx="598.3" cy="385.4" r="4.1"/>
<circle cx="577.7" cy="403.6" r="4.1"/>
<circle cx="598.3" cy="420.6" r="4.1"/>
<circle cx="608.0" cy="415.7" r="4.1"/>
<circle cx="611.7" cy="418.2" r="4.1"/>
<circle cx="583.4" cy="340.4" r="4.1"/>
<circle cx="588.5" cy="351.3" r="4.1"/>
<circle cx="600.4" cy="343.1" r="4.1"/>
<circle cx="597.3" cy="343.4" r="4.1"/>
<circle cx="616.2" cy="333.1" r="4.1"/>
<circle cx="612.5" cy="336.8" r="4.1"/>
<circle cx="609.5" cy="338.6" r="4.1"/>
<circle cx="630.7" cy="335.5" r="4.1"/>
<circle cx="615.5" cy="347.1" r="4.1"/>
<circle cx="619.8" cy="349.5" r="4.1"/>
<circle cx="618.6" cy="353.2" r="4.1"/>
<circle cx="614.9" cy="360.4" r="4.1"/>
<circle cx="636.2" cy="359.2" r="4.1"/>
<circle cx="584.6" cy="378.1" r="4.1"/>
<circle cx="599.8" cy="379.3" r="4.1"/>
<circle cx="610.1" cy="375.0" r="4.1"/>
<circle cx="612.5" cy="358.0" r="4.1"/>
<circle cx="630.5" cy="381.8" r="4.1"/>
<circle cx="577.8" cy="408.0" r="4.1"/>
<circle cx="585.1" cy="380.0" r="4.1"/>
<circle cx="594.2" cy="436.5" r="4.1"/>
<circle cx="610.6" cy="408.6" r="4.1"/>
<circle cx="572.9" cy="392.8" r="4.1"/>
</g>
<g fill="#ff7f0e" stroke="#fff" stroke-width="1.0">
<circle cx="601.7" cy="412.5" r="4.1"/>
<circle cx="613.9" cy="388.7" r="4.1"/>
<circle cx="610.7" cy="409.7" r="4.1"/>
<circle cx="619.8" cy="397.7" r="4.1"/>
<circle cx="622.0" cy="403.0" r="4.1"/>
<circle cx="568.3" cy="416.9" r="4.1"/>
<circle cx="575.8" cy="392.0" r="4.1"/>
<circle cx="575.8" cy="398.1" r="4.1"/>
<circle cx="585.5" cy="392.4" r="4.1"/>
<circle cx="590.8" cy="395.1" r="4.1"/>
<circle cx="595.9" cy="395.1" r="4.1"/>
<circle cx="591.0" cy="412.1" r="4.1"/>
<circle cx="591.0" cy="418.8" r="4.1"/>
<circle cx="590.8" cy="436.4" r="4.1"/>
<circle cx="600.7" cy="416.9" r="4.1"/>
<circle cx="598.3" cy="408.4" r="4.1"/>
<circle cx="595.9" cy="402.4" r="4.1"/>
<circle cx="606.2" cy="389.0" r="4.1"/>
<circle cx="610.4" cy="395.1" r="4.1"/>
<circle cx="608.0" cy="401.8" r="4.1"/>
<circle cx="615.9" cy="406.0" r="4.1"/>
<circle cx="610.8" cy="414.5" r="4.1"/>
<circle cx="620.8" cy="413.1" r="4.1"/>
<circle cx="628.1" cy="409.0" r="4.1"/>
<circle cx="618.3" cy="387.8" r="4.1"/>
<circle cx="617.7" cy="393.9" r="4.1"/>
<circle cx="625.0" cy="379.3" r="4.1"/>
<circle cx="628.1" cy="387.2" r="4.1"/>
<circle cx="610.4" cy="384.2" r="4.1"/>
<circle cx="615.3" cy="367.1" r="4.1"/>
<circle cx="611.1" cy="367.1" r="4.1"/>
<circle cx="625.6" cy="359.3" r="4.1"/>
<circle cx="611.1" cy="356.2" r="4.1"/>
<circle cx="629.3" cy="372.0" r="4.1"/>
<circle cx="622.6" cy="374.4" r="4.1"/>
<circle cx="617.7" cy="380.5" r="4.1"/>
<circle cx="603.2" cy="447.6" r="4.1"/>
<circle cx="603.2" cy="391.4" r="4.1"/>
<circle cx="600.7" cy="397.5" r="4.1"/>
<circle cx="593.4" cy="406.0" r="4.1"/>
<circle cx="605.6" cy="409.7" r="4.1"/>
<circle cx="623.8" cy="391.4" r="4.1"/>
<circle cx="610.7" cy="354.0" r="4.1"/>
<circle cx="625.9" cy="351.3" r="4.1"/>
<circle cx="636.2" cy="347.7" r="4.1"/>
<circle cx="636.8" cy="343.4" r="4.1"/>
<circle cx="630.7" cy="372.6" r="4.1"/>
<circle cx="641.1" cy="375.0" r="4.1"/>
<circle cx="647.7" cy="375.0" r="4.1"/>
<circle cx="655.0" cy="360.4" r="4.1"/>
<circle cx="618.6" cy="377.5" r="4.1"/>
<circle cx="628.3" cy="379.3" r="4.1"/>
<circle cx="638.0" cy="379.3" r="4.1"/>
<circle cx="648.7" cy="378.8" r="4.1"/>
<circle cx="648.1" cy="372.1" r="4.1"/>
<circle cx="591.2" cy="401.3" r="4.1"/>
<circle cx="598.4" cy="401.3" r="4.1"/>
<circle cx="620.3" cy="380.6" r="4.1"/>
<circle cx="603.3" cy="407.4" r="4.1"/>
<circle cx="613.0" cy="400.1" r="4.1"/>
</g>
<g fill="#2ca02c" stroke="#fff" stroke-width="1.0">
<circle cx="685.4" cy="293.9" r="4.1"/>
<circle cx="669.7" cy="314.6" r="4.1"/>
<circle cx="690.3" cy="285.4" r="4.1"/>
<circle cx="666.8" cy="300.3" r="4.1"/>
<circle cx="667.1" cy="333.9" r="4.1"/>
<circle cx="658.6" cy="334.1" r="4.1"/>
<circle cx="641.1" cy="317.9" r="4.1"/>
<circle cx="643.5" cy="301.5" r="4.1"/>
<circle cx="645.9" cy="293.6" r="4.1"/>
<circle cx="655.6" cy="298.5" r="4.1"/>
<circle cx="653.6" cy="310.0" r="4.1"/>
<circle cx="630.7" cy="341.6" r="4.1"/>
<circle cx="647.7" cy="329.5" r="4.1"/>
<circle cx="648.3" cy="336.8" r="4.1"/>
<circle cx="643.5" cy="344.1" r="4.1"/>
<circle cx="643.5" cy="351.3" r="4.1"/>
<circle cx="643.5" cy="358.0" r="4.1"/>
<circle cx="644.1" cy="364.7" r="4.1"/>
<circle cx="649.0" cy="353.8" r="4.1"/>
<circle cx="649.0" cy="362.9" r="4.1"/>
<circle cx="655.6" cy="339.8" r="4.1"/>
<circle cx="658.1" cy="353.8" r="4.1"/>
<circle cx="653.8" cy="332.5" r="4.1"/>
<circle cx="658.1" cy="326.4" r="4.1"/>
<circle cx="655.0" cy="316.7" r="4.1"/>
<circle cx="659.9" cy="304.6" r="4.1"/>
<circle cx="642.9" cy="377.5" r="4.1"/>
<circle cx="650.2" cy="344.7" r="4.1"/>
<circle cx="653.8" cy="347.1" r="4.1"/>
<circle cx="658.1" cy="292.4" r="4.1"/>
<circle cx="676.0" cy="249.5" r="4.1"/>
<circle cx="698.5" cy="262.8" r="4.1"/>
<circle cx="696.1" cy="268.5" r="4.1"/>
<circle cx="698.5" cy="274.6" r="4.1"/>
<circle cx="673.0" cy="265.9" r="4.1"/>
<circle cx="678.4" cy="266.1" r="4.1"/>
<circle cx="681.5" cy="269.2" r="4.1"/>
<circle cx="656.0" cy="274.3" r="4.1"/>
<circle cx="665.7" cy="274.3" r="4.1"/>
<circle cx="678.4" cy="279.8" r="4.1"/>
<circle cx="668.1" cy="282.5" r="4.1"/>
<circle cx="660.8" cy="285.5" r="4.1"/>
<circle cx="686.3" cy="281.9" r="4.1"/>
<circle cx="683.3" cy="285.5" r="4.1"/>
<circle cx="698.5" cy="281.9" r="4.1"/>
<circle cx="701.5" cy="285.5" r="4.1"/>
<circle cx="693.6" cy="288.0" r="4.1"/>
<circle cx="695.4" cy="276.4" r="4.1"/>
<circle cx="661.2" cy="292.8" r="4.1"/>
<circle cx="671.2" cy="293.4" r="4.1"/>
<circle cx="680.9" cy="291.0" r="4.1"/>
<circle cx="676.6" cy="296.5" r="4.1"/>
<circle cx="698.5" cy="293.4" r="4.1"/>
<circle cx="693.0" cy="293.4" r="4.1"/>
<circle cx="693.0" cy="299.5" r="4.1"/>
<circle cx="685.7" cy="298.9" r="4.1"/>
<circle cx="668.1" cy="304.7" r="4.1"/>
<circle cx="676.0" cy="304.7" r="4.1"/>
<circle cx="683.3" cy="301.9" r="4.1"/>
<circle cx="685.7" cy="307.4" r="4.1"/>
<circle cx="688.8" cy="309.8" r="4.1"/>
<circle cx="665.7" cy="310.4" r="4.1"/>
<circle cx="661.4" cy="314.1" r="4.1"/>
<circle cx="676.0" cy="315.3" r="4.1"/>
<circle cx="685.7" cy="321.1" r="4.1"/>
<circle cx="663.3" cy="320.8" r="4.1"/>
<circle cx="657.8" cy="323.8" r="4.1"/>
<circle cx="676.0" cy="321.4" r="4.1"/>
<circle cx="669.9" cy="323.8" r="4.1"/>
<circle cx="678.4" cy="327.5" r="4.1"/>
<circle cx="647.5" cy="328.1" r="4.1"/>
<circle cx="652.3" cy="327.5" r="4.1"/>
<circle cx="661.4" cy="328.1" r="4.1"/>
<circle cx="666.9" cy="327.5" r="4.1"/>
<circle cx="672.4" cy="328.1" r="4.1"/>
<circle cx="673.6" cy="288.6" r="4.1"/>
<circle cx="663.9" cy="289.8" r="4.1"/>
<circle cx="673.6" cy="311.7" r="4.1"/>
<circle cx="673.3" cy="337.5" r="4.1"/>
<circle cx="668.4" cy="342.9" r="4.1"/>
<circle cx="665.7" cy="355.4" r="4.1"/>
<circle cx="663.5" cy="370.6" r="4.1"/>
<circle cx="643.2" cy="378.8" r="4.1"/>
<circle cx="648.7" cy="364.8" r="4.1"/>
<circle cx="671.8" cy="329.6" r="4.1"/>
<circle cx="663.6" cy="336.3" r="4.1"/>
<circle cx="654.2" cy="333.8" r="4.1"/>
<circle cx="669.9" cy="322.3" r="4.1"/>
<circle cx="645.0" cy="333.2" r="4.1"/>
</g>
<g fill="#1f77b4" stroke="#fff" stroke-width="1.0">
<circle cx="118.2" cy="638.2" r="4.1"/>
<circle cx="134.3" cy="659.9" r="4.1"/>
<circle cx="127.1" cy="645.9" r="4.1"/>
<circle cx="140.7" cy="644.5" r="4.1"/>
<circle cx="153.8" cy="604.0" r="4.1"/>
<circle cx="148.1" cy="584.4" r="4.1"/>
<circle cx="143.7" cy="612.4" r="4.1"/>
<circle cx="121.1" cy="618.1" r="4.1"/>
<circle cx="149.5" cy="607.5" r="4.1"/>
<circle cx="118.2" cy="621.7" r="4.1"/>
<circle cx="132.5" cy="596.3" r="4.1"/>
<circle cx="111.1" cy="627.9" r="4.1"/>
<circle cx="157.5" cy="605.1" r="4.1"/>
<circle cx="136.7" cy="624.7" r="4.1"/>
<circle cx="148.0" cy="597.0" r="4.1"/>
<circle cx="127.5" cy="629.0" r="4.1"/>
<circle cx="129.1" cy="601.2" r="4.1"/>
<circle cx="122.5" cy="609.7" r="4.1"/>
<circle cx="137.9" cy="589.9" r="4.1"/>
<circle cx="147.2" cy="655.8" r="4.1"/>
<circle cx="113.4" cy="603.5" r="4.1"/>
<circle cx="136.7" cy="644.0" r="4.1"/>
<circle cx="141.4" cy="589.4" r="4.1"/>
<circle cx="165.0" cy="596.6" r="4.1"/>
<circle cx="174.9" cy="591.8" r="4.1"/>
<circle cx="160.0" cy="610.0" r="4.1"/>
<circle cx="159.5" cy="593.4" r="4.1"/>
<circle cx="154.0" cy="651.1" r="4.1"/>
<circle cx="155.5" cy="615.4" r="4.1"/>
<circle cx="150.4" cy="600.8" r="4.1"/>
<circle cx="150.4" cy="580.4" r="4.1"/>
<circle cx="148.1" cy="643.4" r="4.1"/>
<circle cx="144.9" cy="650.3" r="4.1"/>
<circle cx="143.5" cy="663.9" r="4.1"/>
<circle cx="146.3" cy="617.0" r="4.1"/>
<circle cx="144.0" cy="606.4" r="4.1"/>
<circle cx="144.0" cy="596.6" r="4.1"/>
<circle cx="143.5" cy="583.7" r="4.1"/>
<circle cx="139.7" cy="656.9" r="4.1"/>
<circle cx="141.2" cy="637.4" r="4.1"/>
<circle cx="137.1" cy="634.1" r="4.1"/>
<circle cx="138.0" cy="617.0" r="4.1"/>
<circle cx="136.1" cy="649.5" r="4.1"/>
<circle cx="132.1" cy="647.1" r="4.1"/>
<circle cx="131.2" cy="677.1" r="4.1"/>
<circle cx="130.5" cy="670.7" r="4.1"/>
<circle cx="132.5" cy="627.6" r="4.1"/>
<circle cx="131.2" cy="607.2" r="4.1"/>
<circle cx="136.1" cy="598.3" r="4.1"/>
<circle cx="135.2" cy="586.9" r="4.1"/>
<circle cx="129.7" cy="588.5" r="4.1"/>
<circle cx="129.3" cy="656.1" r="4.1"/>
<circle cx="157.3" cy="599.1" r="4.1"/>
<circle cx="153.6" cy="589.3" r="4.1"/>
<circle cx="152.7" cy="610.4" r="4.1"/>
<circle cx="147.6" cy="638.2" r="4.1"/>
<circle cx="141.7" cy="623.6" r="4.1"/>
<circle cx="138.9" cy="606.4" r="4.1"/>
<circle cx="139.8" cy="595.8" r="4.1"/>
<circle cx="153.6" cy="582.9" r="4.1"/>
<circle cx="148.1" cy="575.5" r="4.1"/>
<circle cx="147.2" cy="591.0" r="4.1"/>
<circle cx="131.6" cy="638.2" r="4.1"/>
<circle cx="131.6" cy="617.0" r="4.1"/>
<circle cx="99.4" cy="624.0" r="4.1"/>
<circle cx="104.9" cy="657.2" r="4.1"/>
<circle cx="106.9" cy="617.0" r="4.1"/>
<circle cx="109.9" cy="634.1" r="4.1"/>
<circle cx="112.2" cy="638.2" r="4.1"/>
<circle cx="110.3" cy="606.4" r="4.1"/>
<circle cx="113.1" cy="590.2" r="4.1"/>
<circle cx="118.8" cy="577.1" r="4.1"/>
<circle cx="113.1" cy="621.0" r="4.1"/>
<circle cx="114.9" cy="608.8" r="4.1"/>
<circle cx="115.8" cy="630.8" r="4.1"/>
<circle cx="118.6" cy="613.8" r="4.1"/>
<circle cx="120.9" cy="600.8" r="4.1"/>
<circle cx="120.9" cy="626.8" r="4.1"/>
<circle cx="124.1" cy="637.4" r="4.1"/>
<circle cx="123.2" cy="647.4" r="4.1"/>
<circle cx="125.5" cy="620.2" r="4.1"/>
<circle cx="128.7" cy="586.9" r="4.1"/>
<circle cx="131.5" cy="590.2" r="4.1"/>
<circle cx="128.2" cy="656.9" r="4.1"/>
<circle cx="130.6" cy="639.8" r="4.1"/>
<circle cx="138.3" cy="597.5" r="4.1"/>
<circle cx="126.9" cy="612.2" r="4.1"/>
<circle cx="133.3" cy="617.0" r="4.1"/>
<circle cx="136.0" cy="604.0" r="4.1"/>
<circle cx="157.1" cy="594.2" r="4.1"/>
<circle cx="117.7" cy="607.2" r="4.1"/>
<circle cx="117.7" cy="599.1" r="4.1"/>
<circle cx="164.4" cy="548.8" r="4.1"/>
<circle cx="146.6" cy="557.0" r="4.1"/>
<circle cx="148.3" cy="566.8" r="4.1"/>
<circle cx="147.8" cy="573.3" r="4.1"/>
</g>
<g fill="#ff7f0e" stroke="#fff" stroke-width="1.0">
<circle cx="188.7" cy="593.0" r="4.1"/>
<circle cx="185.2" cy="593.7" r="4.1"/>
<circle cx="183.4" cy="613.8" r="4.1"/>
<circle cx="176.8" cy="593.1" r="4.1"/>
<circle cx="197.1" cy="601.8" r="4.1"/>
<circle cx="174.9" cy="621.9" r="4.1"/>
<circle cx="205.8" cy="571.5" r="4.1"/>
<circle cx="190.1" cy="580.6" r="4.1"/>
<circle cx="176.5" cy="605.2" r="4.1"/>
<circle cx="240.1" cy="647.1" r="4.1"/>
<circle cx="219.5" cy="580.4" r="4.1"/>
<circle cx="204.8" cy="627.0" r="4.1"/>
<circle cx="211.2" cy="593.4" r="4.1"/>
<circle cx="208.4" cy="593.4" r="4.1"/>
<circle cx="205.9" cy="603.6" r="4.1"/>
<circle cx="208.0" cy="580.4" r="4.1"/>
<circle cx="204.4" cy="581.2" r="4.1"/>
<circle cx="201.6" cy="597.5" r="4.1"/>
<circle cx="200.2" cy="606.4" r="4.1"/>
<circle cx="197.2" cy="617.0" r="4.1"/>
<circle cx="197.9" cy="590.2" r="4.1"/>
<circle cx="194.2" cy="606.4" r="4.1"/>
<circle cx="192.9" cy="599.1" r="4.1"/>
<circle cx="197.9" cy="577.1" r="4.1"/>
<circle cx="193.8" cy="582.9" r="4.1"/>
<circle cx="189.2" cy="613.8" r="4.1"/>
<circle cx="188.3" cy="586.9" r="4.1"/>
<circle cx="203.9" cy="589.3" r="4.1"/>
<circle cx="175.4" cy="657.2" r="4.1"/>
<circle cx="180.4" cy="634.1" r="4.1"/>
<circle cx="179.5" cy="620.2" r="4.1"/>
<circle cx="180.2" cy="610.0" r="4.1"/>
<circle cx="183.8" cy="600.3" r="4.1"/>
<circle cx="178.8" cy="600.3" r="4.1"/>
<circle cx="186.6" cy="586.9" r="4.1"/>
<circle cx="182.9" cy="586.9" r="4.1"/>
<circle cx="176.1" cy="627.6" r="4.1"/>
<circle cx="176.1" cy="614.6" r="4.1"/>
<circle cx="171.5" cy="623.6" r="4.1"/>
<circle cx="170.6" cy="613.8" r="4.1"/>
<circle cx="173.3" cy="600.3" r="4.1"/>
<circle cx="170.6" cy="589.3" r="4.1"/>
<circle cx="161.4" cy="577.1" r="4.1"/>
<circle cx="160.4" cy="627.0" r="4.1"/>
<circle cx="156.1" cy="627.0" r="4.1"/>
<circle cx="155.5" cy="647.1" r="4.1"/>
<circle cx="147.2" cy="626.8" r="4.1"/>
<circle cx="195.8" cy="617.0" r="4.1"/>
<circle cx="194.9" cy="591.0" r="4.1"/>
<circle cx="172.8" cy="604.0" r="4.1"/>
<circle cx="228.2" cy="560.0" r="4.1"/>
<circle cx="215.8" cy="566.8" r="4.1"/>
<circle cx="211.7" cy="567.6" r="4.1"/>
<circle cx="207.1" cy="563.6" r="4.1"/>
<circle cx="207.5" cy="549.8" r="4.1"/>
<circle cx="201.1" cy="550.0" r="4.1"/>
<circle cx="201.1" cy="572.5" r="4.1"/>
<circle cx="192.9" cy="573.3" r="4.1"/>
<circle cx="193.8" cy="584.7" r="4.1"/>
<circle cx="198.4" cy="587.9" r="4.1"/>
<circle cx="183.6" cy="585.5" r="4.1"/>
</g>
<g fill="#2ca02c" stroke="#fff" stroke-width="1.0">
<circle cx="199.3" cy="503.1" r="4.1"/>
<circle cx="167.4" cy="550.1" r="4.1"/>
<circle cx="170.3" cy="523.6" r="4.1"/>
<circle cx="205.4" cy="491.0" r="4.1"/>
<circle cx="166.7" cy="543.4" r="4.1"/>
<circle cx="163.4" cy="547.3" r="4.1"/>
<circle cx="185.9" cy="515.2" r="4.1"/>
<circle cx="199.1" cy="524.1" r="4.1"/>
<circle cx="185.8" cy="535.9" r="4.1"/>
<circle cx="190.1" cy="535.2" r="4.1"/>
<circle cx="163.3" cy="528.3" r="4.1"/>
<circle cx="157.7" cy="548.2" r="4.1"/>
<circle cx="193.8" cy="512.1" r="4.1"/>
<circle cx="174.6" cy="531.8" r="4.1"/>
<circle cx="181.1" cy="518.6" r="4.1"/>
<circle cx="178.3" cy="543.8" r="4.1"/>
<circle cx="194.0" cy="522.1" r="4.1"/>
<circle cx="180.8" cy="527.6" r="4.1"/>
<circle cx="189.2" cy="575.5" r="4.1"/>
<circle cx="248.8" cy="483.1" r="4.1"/>
<circle cx="228.8" cy="489.5" r="4.1"/>
<circle cx="224.5" cy="483.1" r="4.1"/>
<circle cx="219.9" cy="479.3" r="4.1"/>
<circle cx="215.2" cy="519.7" r="4.1"/>
<circle cx="210.3" cy="513.1" r="4.1"/>
<circle cx="208.7" cy="489.5" r="4.1"/>
<circle cx="208.4" cy="482.2" r="4.1"/>
<circle cx="204.8" cy="483.1" r="4.1"/>
<circle cx="203.9" cy="522.9" r="4.1"/>
<circle cx="203.0" cy="515.6" r="4.1"/>
<circle cx="203.0" cy="499.3" r="4.1"/>
<circle cx="199.3" cy="530.2" r="4.1"/>
<circle cx="198.9" cy="509.9" r="4.1"/>
<circle cx="200.7" cy="496.1" r="4.1"/>
<circle cx="201.1" cy="488.7" r="4.1"/>
<circle cx="196.6" cy="540.0" r="4.1"/>
<circle cx="196.6" cy="518.0" r="4.1"/>
<circle cx="196.1" cy="486.3" r="4.1"/>
<circle cx="193.3" cy="530.2" r="4.1"/>
<circle cx="194.2" cy="503.3" r="4.1"/>
<circle cx="192.0" cy="544.0" r="4.1"/>
<circle cx="190.1" cy="557.8" r="4.1"/>
<circle cx="190.1" cy="519.7" r="4.1"/>
<circle cx="190.6" cy="509.9" r="4.1"/>
<circle cx="192.0" cy="490.3" r="4.1"/>
<circle cx="190.1" cy="482.2" r="4.1"/>
<circle cx="188.7" cy="573.3" r="4.1"/>
<circle cx="196.5" cy="480.6" r="4.1"/>
<circle cx="195.6" cy="495.3" r="4.1"/>
<circle cx="147.2" cy="536.3" r="4.1"/>
<circle cx="151.5" cy="549.8" r="4.1"/>
<circle cx="160.2" cy="557.0" r="4.1"/>
<circle cx="157.5" cy="557.0" r="4.1"/>
<circle cx="163.9" cy="556.2" r="4.1"/>
<circle cx="161.6" cy="540.0" r="4.1"/>
<circle cx="156.1" cy="540.0" r="4.1"/>
<circle cx="158.4" cy="532.6" r="4.1"/>
<circle cx="161.1" cy="522.9" r="4.1"/>
<circle cx="161.6" cy="515.6" r="4.1"/>
<circle cx="166.6" cy="526.5" r="4.1"/>
<circle cx="166.6" cy="536.7" r="4.1"/>
<circle cx="170.8" cy="506.7" r="4.1"/>
<circle cx="171.0" cy="557.0" r="4.1"/>
<circle cx="169.9" cy="562.0" r="4.1"/>
<circle cx="170.8" cy="543.2" r="4.1"/>
<circle cx="171.2" cy="532.6" r="4.1"/>
<circle cx="171.7" cy="516.4" r="4.1"/>
<circle cx="174.0" cy="519.7" r="4.1"/>
<circle cx="176.3" cy="525.3" r="4.1"/>
<circle cx="177.6" cy="549.8" r="4.1"/>
<circle cx="179.9" cy="533.4" r="4.1"/>
<circle cx="179.9" cy="509.9" r="4.1"/>
<circle cx="183.6" cy="543.2" r="4.1"/>
<circle cx="186.3" cy="553.0" r="4.1"/>
<circle cx="188.7" cy="519.7" r="4.1"/>
<circle cx="202.9" cy="522.1" r="4.1"/>
<circle cx="203.3" cy="483.9" r="4.1"/>
<circle cx="183.2" cy="522.9" r="4.1"/>
<circle cx="183.6" cy="530.2" r="4.1"/>
<circle cx="176.7" cy="514.7" r="4.1"/>
<circle cx="175.8" cy="539.2" r="4.1"/>
<circle cx="182.3" cy="552.2" r="4.1"/>
<circle cx="183.6" cy="509.9" r="4.1"/>
</g>
<g fill="#1f77b4" stroke="#fff" stroke-width="1.0">
<circle cx="366.6" cy="645.0" r="4.1"/>
<circle cx="346.9" cy="628.5" r="4.1"/>
<circle cx="383.4" cy="618.0" r="4.1"/>
<circle cx="387.5" cy="597.0" r="4.1"/>
<circle cx="349.6" cy="641.0" r="4.1"/>
<circle cx="338.8" cy="630.1" r="4.1"/>
<circle cx="385.6" cy="604.3" r="4.1"/>
<circle cx="344.7" cy="605.7" r="4.1"/>
<circle cx="340.1" cy="640.5" r="4.1"/>
<circle cx="359.6" cy="651.9" r="4.1"/>
<circle cx="396.3" cy="597.3" r="4.1"/>
<circle cx="338.4" cy="648.6" r="4.1"/>
<circle cx="347.1" cy="677.2" r="4.1"/>
<circle cx="356.9" cy="670.8" r="4.1"/>
<circle cx="359.0" cy="664.0" r="4.1"/>
<circle cx="376.5" cy="657.0" r="4.1"/>
<circle cx="378.5" cy="650.4" r="4.1"/>
<circle cx="372.5" cy="650.4" r="4.1"/>
<circle cx="337.3" cy="657.0" r="4.1"/>
<circle cx="340.4" cy="653.7" r="4.1"/>
<circle cx="335.2" cy="647.2" r="4.1"/>
<circle cx="335.2" cy="637.5" r="4.1"/>
<circle cx="353.0" cy="646.7" r="4.1"/>
<circle cx="348.2" cy="646.7" r="4.1"/>
<circle cx="358.2" cy="643.1" r="4.1"/>
<circle cx="359.9" cy="637.5" r="4.1"/>
<circle cx="344.3" cy="640.7" r="4.1"/>
<circle cx="376.8" cy="636.7" r="4.1"/>
<circle cx="379.4" cy="633.3" r="4.1"/>
<circle cx="392.9" cy="623.7" r="4.1"/>
<circle cx="390.5" cy="617.1" r="4.1"/>
<circle cx="390.5" cy="606.5" r="4.1"/>
<circle cx="384.6" cy="623.9" r="4.1"/>
<circle cx="384.6" cy="610.5" r="4.1"/>
<circle cx="376.8" cy="617.1" r="4.1"/>
<circle cx="379.4" cy="620.3" r="4.1"/>
<circle cx="373.3" cy="626.9" r="4.1"/>
<circle cx="379.4" cy="610.5" r="4.1"/>
<circle cx="363.0" cy="577.2" r="4.1"/>
<circle cx="361.6" cy="588.6" r="4.1"/>
<circle cx="343.0" cy="631.7" r="4.1"/>
<circle cx="343.0" cy="623.7" r="4.1"/>
<circle cx="341.3" cy="610.9" r="4.1"/>
<circle cx="337.8" cy="606.5" r="4.1"/>
<circle cx="348.6" cy="606.5" r="4.1"/>
<circle cx="353.8" cy="638.3" r="4.1"/>
<circle cx="347.3" cy="634.2" r="4.1"/>
<circle cx="363.4" cy="652.9" r="4.1"/>
<circle cx="392.0" cy="597.6" r="4.1"/>
<circle cx="392.0" cy="591.1" r="4.1"/>
<circle cx="382.5" cy="597.6" r="4.1"/>
<circle cx="380.8" cy="604.1" r="4.1"/>
<circle cx="373.8" cy="651.2" r="4.1"/>
<circle cx="373.8" cy="617.1" r="4.1"/>
<circle cx="360.8" cy="644.7" r="4.1"/>
<circle cx="348.6" cy="617.1" r="4.1"/>
<circle cx="352.1" cy="604.1" r="4.1"/>
<circle cx="350.3" cy="599.2" r="4.1"/>
<circle cx="405.9" cy="637.1" r="4.1"/>
<circle cx="398.1" cy="630.2" r="4.1"/>
<circle cx="404.0" cy="614.3" r="4.1"/>
<circle cx="403.8" cy="618.4" r="4.1"/>
<circle cx="411.1" cy="593.1" r="4.1"/>
<circle cx="408.5" cy="598.1" r="4.1"/>
<circle cx="407.2" cy="602.1" r="4.1"/>
<circle cx="409.4" cy="573.7" r="4.1"/>
<circle cx="401.1" cy="594.1" r="4.1"/>
<circle cx="399.4" cy="588.3" r="4.1"/>
<circle cx="396.8" cy="589.9" r="4.1"/>
<circle cx="391.6" cy="594.9" r="4.1"/>
<circle cx="392.5" cy="566.4" r="4.1"/>
<circle cx="379.0" cy="635.4" r="4.1"/>
<circle cx="378.1" cy="615.1" r="4.1"/>
<circle cx="381.2" cy="601.3" r="4.1"/>
<circle cx="393.3" cy="598.1" r="4.1"/>
<circle cx="376.3" cy="574.0" r="4.1"/>
<circle cx="357.6" cy="644.6" r="4.1"/>
<circle cx="377.6" cy="634.8" r="4.1"/>
<circle cx="337.3" cy="622.6" r="4.1"/>
<circle cx="357.2" cy="600.6" r="4.1"/>
<circle cx="368.5" cy="651.1" r="4.1"/>
</g>
<g fill="#ff7f0e" stroke="#fff" stroke-width="1.0">
<circle cx="354.4" cy="612.6" r="4.1"/>
<circle cx="371.4" cy="596.2" r="4.1"/>
<circle cx="356.4" cy="600.5" r="4.1"/>
<circle cx="365.0" cy="588.3" r="4.1"/>
<circle cx="361.2" cy="585.4" r="4.1"/>
<circle cx="351.3" cy="657.3" r="4.1"/>
<circle cx="369.0" cy="647.2" r="4.1"/>
<circle cx="364.7" cy="647.2" r="4.1"/>
<circle cx="368.8" cy="634.2" r="4.1"/>
<circle cx="366.8" cy="627.1" r="4.1"/>
<circle cx="366.8" cy="620.3" r="4.1"/>
<circle cx="354.7" cy="626.9" r="4.1"/>
<circle cx="349.9" cy="626.9" r="4.1"/>
<circle cx="337.3" cy="627.1" r="4.1"/>
<circle cx="351.3" cy="613.9" r="4.1"/>
<circle cx="357.3" cy="617.1" r="4.1"/>
<circle cx="361.6" cy="620.3" r="4.1"/>
<circle cx="371.2" cy="606.5" r="4.1"/>
<circle cx="366.8" cy="600.9" r="4.1"/>
<circle cx="362.0" cy="604.1" r="4.1"/>
<circle cx="359.0" cy="593.5" r="4.1"/>
<circle cx="353.0" cy="600.4" r="4.1"/>
<circle cx="354.0" cy="587.0" r="4.1"/>
<circle cx="356.9" cy="577.2" r="4.1"/>
<circle cx="372.0" cy="590.3" r="4.1"/>
<circle cx="367.7" cy="591.1" r="4.1"/>
<circle cx="378.1" cy="581.3" r="4.1"/>
<circle cx="372.5" cy="577.2" r="4.1"/>
<circle cx="374.6" cy="600.9" r="4.1"/>
<circle cx="386.8" cy="594.3" r="4.1"/>
<circle cx="386.8" cy="600.0" r="4.1"/>
<circle cx="392.4" cy="580.5" r="4.1"/>
<circle cx="394.6" cy="600.0" r="4.1"/>
<circle cx="383.3" cy="575.6" r="4.1"/>
<circle cx="381.6" cy="584.6" r="4.1"/>
<circle cx="377.3" cy="591.1" r="4.1"/>
<circle cx="329.3" cy="610.5" r="4.1"/>
<circle cx="369.5" cy="610.5" r="4.1"/>
<circle cx="365.1" cy="613.9" r="4.1"/>
<circle cx="359.0" cy="623.7" r="4.1"/>
<circle cx="356.4" cy="607.3" r="4.1"/>
<circle cx="369.5" cy="583.0" r="4.1"/>
<circle cx="396.2" cy="600.5" r="4.1"/>
<circle cx="398.1" cy="580.1" r="4.1"/>
<circle cx="400.7" cy="566.4" r="4.1"/>
<circle cx="403.8" cy="565.5" r="4.1"/>
<circle cx="382.9" cy="573.7" r="4.1"/>
<circle cx="381.2" cy="559.8" r="4.1"/>
<circle cx="381.2" cy="551.0" r="4.1"/>
<circle cx="391.6" cy="541.2" r="4.1"/>
<circle cx="379.4" cy="589.9" r="4.1"/>
<circle cx="378.1" cy="576.9" r="4.1"/>
<circle cx="378.1" cy="563.9" r="4.1"/>
<circle cx="378.5" cy="549.6" r="4.1"/>
<circle cx="383.3" cy="550.4" r="4.1"/>
<circle cx="362.4" cy="626.6" r="4.1"/>
<circle cx="362.4" cy="617.0" r="4.1"/>
<circle cx="377.2" cy="587.6" r="4.1"/>
<circle cx="358.0" cy="610.4" r="4.1"/>
<circle cx="363.3" cy="597.4" r="4.1"/>
</g>
<g fill="#2ca02c" stroke="#fff" stroke-width="1.0">
<circle cx="439.1" cy="500.4" r="4.1"/>
<circle cx="424.3" cy="521.4" r="4.1"/>
<circle cx="445.2" cy="493.9" r="4.1"/>
<circle cx="434.5" cy="525.4" r="4.1"/>
<circle cx="410.6" cy="524.9" r="4.1"/>
<circle cx="410.4" cy="536.4" r="4.1"/>
<circle cx="422.0" cy="559.8" r="4.1"/>
<circle cx="433.7" cy="556.6" r="4.1"/>
<circle cx="439.3" cy="553.4" r="4.1"/>
<circle cx="435.8" cy="540.4" r="4.1"/>
<circle cx="427.6" cy="543.1" r="4.1"/>
<circle cx="405.0" cy="573.7" r="4.1"/>
<circle cx="413.7" cy="551.0" r="4.1"/>
<circle cx="408.5" cy="550.1" r="4.1"/>
<circle cx="403.3" cy="556.6" r="4.1"/>
<circle cx="398.1" cy="556.6" r="4.1"/>
<circle cx="393.3" cy="556.6" r="4.1"/>
<circle cx="388.5" cy="555.8" r="4.1"/>
<circle cx="396.3" cy="549.2" r="4.1"/>
<circle cx="389.8" cy="549.2" r="4.1"/>
<circle cx="406.3" cy="540.4" r="4.1"/>
<circle cx="396.3" cy="537.0" r="4.1"/>
<circle cx="411.5" cy="542.8" r="4.1"/>
<circle cx="415.9" cy="537.0" r="4.1"/>
<circle cx="422.8" cy="541.2" r="4.1"/>
<circle cx="431.5" cy="534.6" r="4.1"/>
<circle cx="379.4" cy="557.4" r="4.1"/>
<circle cx="402.8" cy="547.6" r="4.1"/>
<circle cx="401.1" cy="542.8" r="4.1"/>
<circle cx="440.2" cy="537.0" r="4.1"/>
<circle cx="470.8" cy="513.1" r="4.1"/>
<circle cx="461.3" cy="482.9" r="4.1"/>
<circle cx="457.2" cy="486.1" r="4.1"/>
<circle cx="452.9" cy="482.9" r="4.1"/>
<circle cx="459.1" cy="517.1" r="4.1"/>
<circle cx="459.0" cy="509.8" r="4.1"/>
<circle cx="456.7" cy="505.7" r="4.1"/>
<circle cx="453.1" cy="539.8" r="4.1"/>
<circle cx="453.1" cy="526.8" r="4.1"/>
<circle cx="449.2" cy="509.8" r="4.1"/>
<circle cx="447.3" cy="523.6" r="4.1"/>
<circle cx="445.1" cy="533.4" r="4.1"/>
<circle cx="447.7" cy="499.3" r="4.1"/>
<circle cx="445.1" cy="503.3" r="4.1"/>
<circle cx="447.7" cy="482.9" r="4.1"/>
<circle cx="445.1" cy="478.9" r="4.1"/>
<circle cx="443.3" cy="489.5" r="4.1"/>
<circle cx="451.6" cy="487.1" r="4.1"/>
<circle cx="439.9" cy="532.9" r="4.1"/>
<circle cx="439.5" cy="519.5" r="4.1"/>
<circle cx="441.2" cy="506.5" r="4.1"/>
<circle cx="437.3" cy="512.3" r="4.1"/>
<circle cx="439.5" cy="482.9" r="4.1"/>
<circle cx="439.5" cy="490.3" r="4.1"/>
<circle cx="435.1" cy="490.3" r="4.1"/>
<circle cx="435.5" cy="500.1" r="4.1"/>
<circle cx="431.4" cy="523.6" r="4.1"/>
<circle cx="431.4" cy="513.1" r="4.1"/>
<circle cx="433.4" cy="503.3" r="4.1"/>
<circle cx="429.5" cy="500.1" r="4.1"/>
<circle cx="427.8" cy="495.9" r="4.1"/>
<circle cx="427.3" cy="526.8" r="4.1"/>
<circle cx="424.7" cy="532.6" r="4.1"/>
<circle cx="423.8" cy="513.1" r="4.1"/>
<circle cx="419.7" cy="500.1" r="4.1"/>
<circle cx="419.9" cy="530.1" r="4.1"/>
<circle cx="417.8" cy="537.4" r="4.1"/>
<circle cx="419.5" cy="513.1" r="4.1"/>
<circle cx="417.8" cy="521.2" r="4.1"/>
<circle cx="415.1" cy="509.8" r="4.1"/>
<circle cx="414.7" cy="551.2" r="4.1"/>
<circle cx="415.1" cy="544.8" r="4.1"/>
<circle cx="414.7" cy="532.6" r="4.1"/>
<circle cx="415.1" cy="525.2" r="4.1"/>
<circle cx="414.7" cy="517.9" r="4.1"/>
<circle cx="442.9" cy="516.3" r="4.1"/>
<circle cx="442.0" cy="529.3" r="4.1"/>
<circle cx="426.4" cy="516.3" r="4.1"/>
<circle cx="408.0" cy="516.7" r="4.1"/>
<circle cx="404.1" cy="523.2" r="4.1"/>
<circle cx="395.2" cy="526.8" r="4.1"/>
<circle cx="384.3" cy="529.8" r="4.1"/>
<circle cx="378.5" cy="557.0" r="4.1"/>
<circle cx="388.5" cy="549.6" r="4.1"/>
<circle cx="413.6" cy="518.7" r="4.1"/>
<circle cx="408.8" cy="529.7" r="4.1"/>
<circle cx="410.6" cy="542.2" r="4.1"/>
<circle cx="418.8" cy="521.2" r="4.1"/>
<circle cx="411.0" cy="554.6" r="4.1"/>
</g>
<g stroke="#000" stroke-width="1.2" fill="none" stroke-linecap="butt">
<path d="M75.5,10.2V229.1M74.9,228.5H278.0"/>
<path d="M88.5,228.5v5.3"/>
<path d="M142.5,228.5v5.3"/>
<path d="M197.5,228.5v5.3"/>
<path d="M251.5,228.5v5.3"/>
<path d="M75.5,197.5h-5.3"/>
<path d="M75.5,161.5h-5.3"/>
<path d="M75.5,125.5h-5.3"/>
<path d="M75.5,89.5h-5.3"/>
<path d="M75.5,53.5h-5.3"/>
<path d="M75.5,17.5h-5.3"/>
<path d="M300.5,10.2V229.1M299.9,228.5H503.9"/>
<path d="M302.5,228.5v5.3"/>
<path d="M380.5,228.5v5.3"/>
<path d="M459.5,228.5v5.3"/>
<path d="M300.5,197.5h-5.3"/>
<path d="M300.5,161.5h-5.3"/>
<path d="M300.5,125.5h-5.3"/>
<path d="M300.5,89.5h-5.3"/>
<path d="M300.5,53.5h-5.3"/>
<path d="M300.5,17.5h-5.3"/>
<path d="M526.5,10.2V229.1M525.9,228.5H730.3"/>
<path d="M560.5,228.5v5.3"/>
<path d="M623.5,228.5v5.3"/>
<path d="M686.5,228.5v5.3"/>
<path d="M526.5,197.5h-5.3"/>
<path d="M526.5,161.5h-5.3"/>
<path d="M526.5,125.5h-5.3"/>
<path d="M526.5,89.5h-5.3"/>
<path d="M526.5,53.5h-5.3"/>
<path d="M526.5,17.5h-5.3"/>
<path d="M75.5,240.2V459.1M74.9,458.5H278.0"/>
<path d="M88.5,458.5v5.3"/>
<path d="M142.5,458.5v5.3"/>
<path d="M197.5,458.5v5.3"/>
<path d="M251.5,458.5v5.3"/>
<path d="M75.5,431.5h-5.3"/>
<path d="M75.5,376.5h-5.3"/>
<path d="M75.5,321.5h-5.3"/>
<path d="M75.5,266.5h-5.3"/>
<path d="M300.5,240.2V459.1M299.9,458.5H503.9"/>
<path d="M302.5,458.5v5.3"/>
<path d="M380.5,458.5v5.3"/>
<path d="M459.5,458.5v5.3"/>
<path d="M300.5,431.5h-5.3"/>
<path d="M300.5,376.5h-5.3"/>
<path d="M300.5,321.5h-5.3"/>
<path d="M300.5,266.5h-5.3"/>
<path d="M526.5,240.2V459.1M525.9,458.5H730.3"/>
<path d="M560.5,458.5v5.3"/>
<path d="M623.5,458.5v5.3"/>
<path d="M686.5,458.5v5.3"/>
<path d="M526.5,431.5h-5.3"/>
<path d="M526.5,376.5h-5.3"/>
<path d="M526.5,321.5h-5.3"/>
<path d="M526.5,266.5h-5.3"/>
<path d="M75.5,470.0V689.1M74.9,688.5H278.0"/>
<path d="M88.5,688.5v5.3"/>
<path d="M142.5,688.5v5.3"/>
<path d="M197.5,688.5v5.3"/>
<path d="M251.5,688.5v5.3"/>
<path d="M75.5,684.5h-5.3"/>
<path d="M75.5,650.5h-5.3"/>
<path d="M75.5,617.5h-5.3"/>
<path d="M75.5,583.5h-5.3"/>
<path d="M75.5,550.5h-5.3"/>
<path d="M75.5,516.5h-5.3"/>
<path d="M75.5,483.5h-5.3"/>
<path d="M300.5,470.0V689.1M299.9,688.5H503.9"/>
<path d="M302.5,688.5v5.3"/>
<path d="M380.5,688.5v5.3"/>
<path d="M459.5,688.5v5.3"/>
<path d="M300.5,684.5h-5.3"/>
<path d="M300.5,650.5h-5.3"/>
<path d="M300.5,617.5h-5.3"/>
<path d="M300.5,583.5h-5.3"/>
<path d="M300.5,550.5h-5.3"/>
<path d="M300.5,516.5h-5.3"/>
<path d="M300.5,483.5h-5.3"/>
<path d="M526.5,470.0V689.1M525.9,688.5H730.3"/>
<path d="M560.5,688.5v5.3"/>
<path d="M623.5,688.5v5.3"/>
<path d="M686.5,688.5v5.3"/>
<path d="M526.5,684.5h-5.3"/>
<path d="M526.5,650.5h-5.3"/>
<path d="M526.5,617.5h-5.3"/>
<path d="M526.5,583.5h-5.3"/>
<path d="M526.5,550.5h-5.3"/>
<path d="M526.5,516.5h-5.3"/>
<path d="M526.5,483.5h-5.3"/>
</g>
<path d="M132.0,228.3C132.3,228.3 133.3,228.2 134.0,228.2C134.7,228.1 135.3,228.0 136.0,227.9C136.7,227.8 137.3,227.6 138.0,227.4C138.7,227.1 139.3,226.8 140.0,226.4C140.7,225.9 141.3,225.3 142.0,224.5C142.7,223.6 143.3,222.6 144.0,221.2C144.7,219.9 145.3,218.3 146.0,216.3C146.7,214.3 147.3,212.0 148.0,209.5C148.7,206.9 149.3,204.0 150.0,201.0C150.7,198.0 151.3,194.7 152.0,191.5C152.7,188.3 153.3,185.0 154.0,181.7C154.7,178.5 155.3,175.4 156.0,172.3C156.7,169.2 157.3,166.2 158.0,163.1C158.7,159.9 159.3,156.9 160.0,153.5C160.7,150.2 161.3,146.7 162.0,142.9C162.7,139.2 163.3,135.1 164.0,130.8C164.7,126.5 165.3,121.8 166.0,117.3C166.7,112.7 167.3,107.8 168.0,103.4C168.7,98.9 169.3,94.4 170.0,90.5C170.7,86.6 171.3,83.0 172.0,80.1C172.7,77.2 173.3,74.8 174.0,73.1C174.7,71.4 175.3,70.4 176.0,69.9C176.7,69.4 177.3,69.6 178.0,70.0C178.7,70.5 179.3,71.5 180.0,72.5C180.7,73.5 181.3,74.9 182.0,76.1C182.7,77.2 183.3,78.5 184.0,79.4C184.7,80.4 185.3,81.2 186.0,81.9C186.7,82.5 187.3,82.9 188.0,83.2C188.7,83.6 189.3,83.8 190.0,84.2C190.7,84.7 191.3,85.0 192.0,85.9C192.7,86.8 193.3,87.9 194.0,89.6C194.7,91.2 195.3,93.4 196.0,96.1C196.7,98.8 197.3,102.1 198.0,105.9C198.7,109.6 199.3,114.0 200.0,118.6C200.7,123.2 201.3,128.3 202.0,133.3C202.7,138.3 203.3,143.6 204.0,148.7C204.7,153.7 205.3,158.8 206.0,163.5C206.7,168.2 207.3,172.7 208.0,176.7C208.7,180.8 209.3,184.5 210.0,187.8C210.7,191.1 211.3,194.0 212.0,196.6C212.7,199.2 213.3,201.3 214.0,203.2C214.7,205.1 215.3,206.7 216.0,208.1C216.7,209.5 217.3,210.6 218.0,211.6C218.7,212.6 219.3,213.4 220.0,214.2C220.7,214.9 221.3,215.5 222.0,216.1C222.7,216.7 223.3,217.2 224.0,217.7C224.7,218.2 225.3,218.6 226.0,219.1C226.7,219.5 227.3,219.9 228.0,220.2C228.7,220.6 229.3,221.0 230.0,221.3C230.7,221.6 231.3,222.0 232.0,222.2C232.7,222.5 233.3,222.8 234.0,223.1C234.7,223.3 235.3,223.6 236.0,223.8C236.7,224.0 237.3,224.2 238.0,224.3C238.7,224.5 239.3,224.6 240.0,224.7C240.7,224.8 241.3,224.8 242.0,224.9C242.7,224.9 243.3,224.9 244.0,224.9C244.7,224.9 245.3,224.9 246.0,224.9C246.7,224.8 247.3,224.8 248.0,224.8C248.7,224.7 249.3,224.7 250.0,224.7C250.7,224.7 251.3,224.8 252.0,224.8C252.7,224.9 253.3,225.0 254.0,225.1C254.7,225.3 255.3,225.4 256.0,225.6C256.7,225.8 257.3,226.0 258.0,226.1C258.7,226.3 259.3,226.5 260.0,226.7C260.7,226.9 261.3,227.1 262.0,227.2C262.7,227.4 263.3,227.5 264.0,227.7C264.7,227.8 265.3,227.9 266.0,228.0C266.7,228.1 267.3,228.1 268.0,228.2C268.7,228.2 269.3,228.3 270.0,228.3C270.7,228.4 271.7,228.4 272.0,228.4L272.0,228.5L132.0,228.5Z" fill="#2ca02c" fill-opacity="0.25" stroke="#2ca02c" stroke-width="1.45" stroke-linejoin="round"/>
<path d="M130.0,228.2C130.3,228.2 131.3,228.1 132.0,228.0C132.7,227.9 133.3,227.8 134.0,227.6C134.7,227.5 135.3,227.3 136.0,227.1C136.7,226.8 137.3,226.6 138.0,226.2C138.7,225.9 139.3,225.5 140.0,225.1C140.7,224.6 141.3,224.1 142.0,223.6C142.7,223.0 143.3,222.4 144.0,221.8C144.7,221.1 145.3,220.4 146.0,219.7C146.7,218.9 147.3,218.2 148.0,217.4C148.7,216.7 149.3,215.9 150.0,215.1C150.7,214.4 151.3,213.7 152.0,213.0C152.7,212.3 153.3,211.6 154.0,211.0C154.7,210.3 155.3,209.7 156.0,209.0C156.7,208.4 157.3,207.8 158.0,207.0C158.7,206.3 159.3,205.5 160.0,204.5C160.7,203.6 161.3,202.6 162.0,201.3C162.7,200.1 163.3,198.7 164.0,197.1C164.7,195.5 165.3,193.7 166.0,191.9C166.7,190.0 167.3,187.9 168.0,185.9C168.7,183.8 169.3,181.7 170.0,179.7C170.7,177.7 171.3,175.7 172.0,174.0C172.7,172.3 173.3,170.7 174.0,169.4C174.7,168.2 175.3,167.2 176.0,166.5C176.7,165.9 177.3,165.5 178.0,165.4C178.7,165.2 179.3,165.4 180.0,165.5C180.7,165.7 181.3,166.1 182.0,166.4C182.7,166.6 183.3,166.9 184.0,167.0C184.7,167.0 185.3,167.0 186.0,166.6C186.7,166.2 187.3,165.6 188.0,164.7C188.7,163.9 189.3,162.7 190.0,161.4C190.7,160.0 191.3,158.4 192.0,156.8C192.7,155.2 193.3,153.4 194.0,151.7C194.7,150.1 195.3,148.4 196.0,147.1C196.7,145.7 197.3,144.4 198.0,143.6C198.7,142.8 199.3,142.2 200.0,142.1C200.7,142.0 201.3,142.3 202.0,143.0C202.7,143.6 203.3,144.8 204.0,146.3C204.7,147.7 205.3,149.7 206.0,151.8C206.7,153.9 207.3,156.5 208.0,159.1C208.7,161.8 209.3,164.7 210.0,167.6C210.7,170.5 211.3,173.6 212.0,176.6C212.7,179.6 213.3,182.6 214.0,185.4C214.7,188.3 215.3,191.1 216.0,193.6C216.7,196.2 217.3,198.6 218.0,200.8C218.7,203.0 219.3,205.0 220.0,206.8C220.7,208.6 221.3,210.2 222.0,211.6C222.7,213.0 223.3,214.2 224.0,215.3C224.7,216.4 225.3,217.2 226.0,218.0C226.7,218.8 227.3,219.4 228.0,220.0C228.7,220.5 229.3,220.9 230.0,221.3C230.7,221.7 231.3,222.0 232.0,222.3C232.7,222.6 233.3,222.8 234.0,223.0C234.7,223.3 235.3,223.4 236.0,223.6C236.7,223.8 237.3,224.0 238.0,224.1C238.7,224.3 239.3,224.4 240.0,224.6C240.7,224.7 241.3,224.9 242.0,225.0C242.7,225.2 243.3,225.3 244.0,225.4C244.7,225.6 245.3,225.7 246.0,225.9C246.7,226.0 247.3,226.1 248.0,226.2C248.7,226.4 249.3,226.5 250.0,226.6C250.7,226.7 251.3,226.9 252.0,227.0C252.7,227.1 253.3,227.2 254.0,227.3C254.7,227.4 255.3,227.4 256.0,227.5C256.7,227.6 257.3,227.7 258.0,227.7C258.7,227.8 259.3,227.9 260.0,227.9C260.7,228.0 261.3,228.0 262.0,228.1C262.7,228.1 263.3,228.1 264.0,228.2C264.7,228.2 265.3,228.2 266.0,228.3C266.7,228.3 267.7,228.3 268.0,228.3L268.0,228.5L130.0,228.5Z" fill="#ff7f0e" fill-opacity="0.25" stroke="#ff7f0e" stroke-width="1.45" stroke-linejoin="round"/>
<path d="M84.0,228.4C84.3,228.4 85.3,228.3 86.0,228.2C86.7,228.1 87.3,228.0 88.0,227.8C88.7,227.7 89.3,227.5 90.0,227.2C90.7,226.9 91.3,226.5 92.0,226.1C92.7,225.6 93.3,225.1 94.0,224.5C94.7,223.9 95.3,223.2 96.0,222.4C96.7,221.7 97.3,220.9 98.0,219.9C98.7,218.9 99.3,217.9 100.0,216.7C100.7,215.4 101.3,214.1 102.0,212.4C102.7,210.6 103.3,208.7 104.0,206.3C104.7,203.9 105.3,201.2 106.0,197.9C106.7,194.6 107.3,190.9 108.0,186.7C108.7,182.4 109.3,177.6 110.0,172.5C110.7,167.3 111.3,161.6 112.0,155.6C112.7,149.7 113.3,143.2 114.0,136.8C114.7,130.4 115.3,123.6 116.0,117.0C116.7,110.4 117.3,103.7 118.0,97.4C118.7,91.0 119.3,84.8 120.0,79.1C120.7,73.3 121.3,67.9 122.0,63.0C122.7,58.1 123.3,53.7 124.0,49.8C124.7,45.9 125.3,42.5 126.0,39.6C126.7,36.6 127.3,34.2 128.0,32.0C128.7,29.9 129.3,28.1 130.0,26.6C130.7,25.1 131.3,23.9 132.0,23.0C132.7,22.0 133.3,21.3 134.0,20.9C134.7,20.5 135.3,20.3 136.0,20.4C136.7,20.5 137.3,20.9 138.0,21.5C138.7,22.1 139.3,23.0 140.0,23.8C140.7,24.7 141.3,25.7 142.0,26.8C142.7,27.8 143.3,28.8 144.0,30.1C144.7,31.5 145.3,32.7 146.0,35.0C146.7,37.2 147.3,39.7 148.0,43.6C148.7,47.5 149.3,52.4 150.0,58.4C150.7,64.3 151.3,71.8 152.0,79.4C152.7,87.0 153.3,95.9 154.0,104.0C154.7,112.0 155.3,120.5 156.0,127.8C156.7,135.1 157.3,141.9 158.0,148.0C158.7,154.1 159.3,159.3 160.0,164.3C160.7,169.3 161.3,173.7 162.0,177.9C162.7,182.1 163.3,186.1 164.0,189.6C164.7,193.2 165.3,196.4 166.0,199.1C166.7,201.8 167.3,204.0 168.0,205.7C168.7,207.5 169.3,208.6 170.0,209.6C170.7,210.6 171.3,211.1 172.0,211.9C172.7,212.6 173.3,213.2 174.0,214.0C174.7,214.8 175.3,215.7 176.0,216.8C176.7,217.8 177.3,219.0 178.0,220.0C178.7,221.1 179.3,222.2 180.0,223.2C180.7,224.1 181.3,224.9 182.0,225.6C182.7,226.2 183.3,226.7 184.0,227.1C184.7,227.5 185.3,227.7 186.0,227.9C186.7,228.1 187.3,228.2 188.0,228.3C188.7,228.4 189.7,228.4 190.0,228.4L190.0,228.5L84.0,228.5Z" fill="#1f77b4" fill-opacity="0.25" stroke="#1f77b4" stroke-width="1.45" stroke-linejoin="round"/>
<path d="M360.0,457.8C360.3,457.8 361.3,457.7 362.0,457.6C362.7,457.5 363.3,457.4 364.0,457.2C364.7,457.1 365.3,457.0 366.0,456.8C366.7,456.6 367.3,456.4 368.0,456.1C368.7,455.9 369.3,455.6 370.0,455.2C370.7,454.8 371.3,454.4 372.0,453.9C372.7,453.3 373.3,452.7 374.0,452.0C374.7,451.3 375.3,450.4 376.0,449.4C376.7,448.5 377.3,447.3 378.0,446.0C378.7,444.7 379.3,443.3 380.0,441.7C380.7,440.1 381.3,438.3 382.0,436.3C382.7,434.4 383.3,432.2 384.0,430.0C384.7,427.7 385.3,425.3 386.0,422.8C386.7,420.3 387.3,417.7 388.0,414.9C388.7,412.2 389.3,409.4 390.0,406.5C390.7,403.6 391.3,400.7 392.0,397.6C392.7,394.6 393.3,391.4 394.0,388.2C394.7,384.9 395.3,381.6 396.0,378.1C396.7,374.6 397.3,371.0 398.0,367.4C398.7,363.8 399.3,360.0 400.0,356.4C400.7,352.7 401.3,348.9 402.0,345.3C402.7,341.8 403.3,338.2 404.0,335.0C404.7,331.8 405.3,328.7 406.0,326.1C406.7,323.4 407.3,320.9 408.0,318.9C408.7,316.9 409.3,315.2 410.0,313.9C410.7,312.6 411.3,311.6 412.0,311.0C412.7,310.4 413.3,310.1 414.0,310.1C414.7,310.2 415.3,310.5 416.0,311.1C416.7,311.7 417.3,312.6 418.0,313.6C418.7,314.7 419.3,316.0 420.0,317.3C420.7,318.6 421.3,320.1 422.0,321.5C422.7,322.9 423.3,324.4 424.0,325.7C424.7,327.0 425.3,328.2 426.0,329.2C426.7,330.3 427.3,331.1 428.0,331.8C428.7,332.5 429.3,333.0 430.0,333.4C430.7,333.8 431.3,334.0 432.0,334.2C432.7,334.4 433.3,334.5 434.0,334.6C434.7,334.8 435.3,334.9 436.0,335.1C436.7,335.4 437.3,335.7 438.0,336.2C438.7,336.7 439.3,337.3 440.0,338.2C440.7,339.0 441.3,340.1 442.0,341.3C442.7,342.6 443.3,344.1 444.0,345.7C444.7,347.4 445.3,349.4 446.0,351.5C446.7,353.6 447.3,355.9 448.0,358.3C448.7,360.8 449.3,363.5 450.0,366.2C450.7,369.0 451.3,371.9 452.0,374.9C452.7,377.8 453.3,380.9 454.0,383.9C454.7,387.0 455.3,390.1 456.0,393.1C456.7,396.2 457.3,399.3 458.0,402.2C458.7,405.2 459.3,408.1 460.0,410.9C460.7,413.6 461.3,416.3 462.0,418.9C462.7,421.4 463.3,423.8 464.0,426.1C464.7,428.4 465.3,430.5 466.0,432.5C466.7,434.4 467.3,436.3 468.0,437.9C468.7,439.6 469.3,441.1 470.0,442.5C470.7,443.9 471.3,445.1 472.0,446.3C472.7,447.4 473.3,448.4 474.0,449.3C474.7,450.2 475.3,450.9 476.0,451.6C476.7,452.3 477.3,452.9 478.0,453.4C478.7,454.0 479.3,454.4 480.0,454.8C480.7,455.2 481.3,455.5 482.0,455.8C482.7,456.1 483.3,456.4 484.0,456.6C484.7,456.8 485.3,457.0 486.0,457.1C486.7,457.3 487.3,457.4 488.0,457.5C488.7,457.6 489.3,457.7 490.0,457.8C490.7,457.9 491.3,457.9 492.0,458.0C492.7,458.0 493.3,458.1 494.0,458.1C494.7,458.2 495.3,458.2 496.0,458.2C496.7,458.2 497.7,458.3 498.0,458.3L498.0,458.4L360.0,458.4Z" fill="#2ca02c" fill-opacity="0.25" stroke="#2ca02c" stroke-width="1.45" stroke-linejoin="round"/>
<path d="M311.0,458.3C311.3,458.3 312.3,458.3 313.0,458.2C313.7,458.2 314.3,458.1 315.0,458.0C315.7,457.9 316.3,457.8 317.0,457.7C317.7,457.6 318.3,457.4 319.0,457.2C319.7,457.0 320.3,456.7 321.0,456.5C321.7,456.2 322.3,455.9 323.0,455.5C323.7,455.2 324.3,454.7 325.0,454.3C325.7,453.9 326.3,453.5 327.0,453.1C327.7,452.7 328.3,452.3 329.0,451.9C329.7,451.5 330.3,451.2 331.0,450.8C331.7,450.5 332.3,450.3 333.0,450.0C333.7,449.7 334.3,449.5 335.0,449.2C335.7,448.9 336.3,448.7 337.0,448.2C337.7,447.7 338.3,447.1 339.0,446.2C339.7,445.3 340.3,444.2 341.0,442.6C341.7,441.1 342.3,439.2 343.0,436.8C343.7,434.4 344.3,431.5 345.0,428.3C345.7,425.1 346.3,421.3 347.0,417.4C347.7,413.5 348.3,409.2 349.0,405.0C349.7,400.8 350.3,396.4 351.0,392.3C351.7,388.2 352.3,384.2 353.0,380.6C353.7,377.0 354.3,373.7 355.0,370.7C355.7,367.6 356.3,365.0 357.0,362.4C357.7,359.8 358.3,357.5 359.0,355.2C359.7,352.9 360.3,350.7 361.0,348.5C361.7,346.4 362.3,344.2 363.0,342.3C363.7,340.5 364.3,338.7 365.0,337.3C365.7,336.0 366.3,335.0 367.0,334.5C367.7,334.0 368.3,333.9 369.0,334.2C369.7,334.5 370.3,335.3 371.0,336.3C371.7,337.3 372.3,338.7 373.0,340.4C373.7,342.0 374.3,344.0 375.0,346.2C375.7,348.5 376.3,351.0 377.0,353.8C377.7,356.7 378.3,359.9 379.0,363.2C379.7,366.5 380.3,370.1 381.0,373.6C381.7,377.1 382.3,380.8 383.0,384.1C383.7,387.4 384.3,390.7 385.0,393.6C385.7,396.5 386.3,399.2 387.0,401.7C387.7,404.2 388.3,406.4 389.0,408.6C389.7,410.8 390.3,412.8 391.0,414.8C391.7,416.7 392.3,418.7 393.0,420.5C393.7,422.4 394.3,424.2 395.0,425.9C395.7,427.6 396.3,429.2 397.0,430.6C397.7,432.1 398.3,433.4 399.0,434.6C399.7,435.9 400.3,436.9 401.0,437.9C401.7,438.9 402.3,439.7 403.0,440.5C403.7,441.3 404.3,442.0 405.0,442.7C405.7,443.4 406.3,444.1 407.0,444.8C407.7,445.4 408.3,446.0 409.0,446.7C409.7,447.3 410.3,447.9 411.0,448.5C411.7,449.1 412.3,449.7 413.0,450.3C413.7,450.9 414.3,451.4 415.0,451.9C415.7,452.4 416.3,452.9 417.0,453.3C417.7,453.8 418.3,454.2 419.0,454.6C419.7,454.9 420.3,455.3 421.0,455.6C421.7,455.9 422.3,456.1 423.0,456.4C423.7,456.6 424.3,456.8 425.0,457.0C425.7,457.1 426.3,457.3 427.0,457.4C427.7,457.6 428.7,457.7 429.0,457.8L429.0,458.4L311.0,458.4Z" fill="#ff7f0e" fill-opacity="0.25" stroke="#ff7f0e" stroke-width="1.45" stroke-linejoin="round"/>
<path d="M314.0,458.0C314.3,457.9 315.3,457.8 316.0,457.7C316.7,457.6 317.3,457.5 318.0,457.3C318.7,457.1 319.3,456.8 320.0,456.5C320.7,456.1 321.3,455.7 322.0,455.1C322.7,454.5 323.3,453.8 324.0,452.8C324.7,451.7 325.3,450.6 326.0,448.9C326.7,447.3 327.3,445.4 328.0,443.1C328.7,440.8 329.3,438.0 330.0,434.9C330.7,431.8 331.3,428.2 332.0,424.4C332.7,420.6 333.3,416.3 334.0,412.1C334.7,407.9 335.3,403.3 336.0,399.0C336.7,394.6 337.3,390.1 338.0,385.8C338.7,381.4 339.3,377.2 340.0,372.9C340.7,368.7 341.3,364.5 342.0,360.3C342.7,356.0 343.3,351.7 344.0,347.2C344.7,342.6 345.3,338.0 346.0,333.2C346.7,328.4 347.3,323.4 348.0,318.5C348.7,313.5 349.3,308.4 350.0,303.5C350.7,298.6 351.3,293.7 352.0,289.2C352.7,284.7 353.3,280.4 354.0,276.5C354.7,272.6 355.3,269.1 356.0,266.1C356.7,263.0 357.3,260.4 358.0,258.3C358.7,256.2 359.3,254.6 360.0,253.4C360.7,252.2 361.3,251.4 362.0,251.0C362.7,250.5 363.3,250.5 364.0,250.6C364.7,250.7 365.3,251.1 366.0,251.6C366.7,252.1 367.3,252.9 368.0,253.8C368.7,254.6 369.3,255.7 370.0,257.0C370.7,258.3 371.3,259.7 372.0,261.5C372.7,263.3 373.3,265.3 374.0,267.7C374.7,270.0 375.3,272.7 376.0,275.6C376.7,278.6 377.3,281.9 378.0,285.4C378.7,288.8 379.3,292.7 380.0,296.5C380.7,300.4 381.3,304.5 382.0,308.5C382.7,312.5 383.3,316.7 384.0,320.6C384.7,324.5 385.3,328.4 386.0,332.0C386.7,335.6 387.3,339.1 388.0,342.2C388.7,345.3 389.3,348.2 390.0,350.8C390.7,353.4 391.3,355.7 392.0,357.9C392.7,360.1 393.3,362.1 394.0,364.1C394.7,366.1 395.3,368.0 396.0,370.0C396.7,372.1 397.3,374.1 398.0,376.4C398.7,378.7 399.3,381.1 400.0,383.6C400.7,386.1 401.3,388.8 402.0,391.5C402.7,394.2 403.3,397.0 404.0,399.7C404.7,402.4 405.3,405.2 406.0,407.8C406.7,410.4 407.3,412.9 408.0,415.3C408.7,417.7 409.3,420.0 410.0,422.3C410.7,424.5 411.3,426.7 412.0,428.8C412.7,431.0 413.3,433.0 414.0,435.0C414.7,437.0 415.3,439.0 416.0,440.8C416.7,442.6 417.3,444.4 418.0,445.9C418.7,447.5 419.3,448.9 420.0,450.1C420.7,451.3 421.3,452.4 422.0,453.3C422.7,454.2 423.3,454.9 424.0,455.5C424.7,456.1 425.3,456.5 426.0,456.8C426.7,457.2 427.3,457.4 428.0,457.6C428.7,457.8 429.7,457.9 430.0,458.0L430.0,458.4L314.0,458.4Z" fill="#1f77b4" fill-opacity="0.25" stroke="#1f77b4" stroke-width="1.45" stroke-linejoin="round"/>
<path d="M615.0,687.8C615.3,687.8 616.3,687.7 617.0,687.6C617.7,687.5 618.3,687.4 619.0,687.2C619.7,687.1 620.3,686.9 621.0,686.7C621.7,686.5 622.3,686.2 623.0,686.0C623.7,685.7 624.3,685.3 625.0,684.9C625.7,684.5 626.3,684.0 627.0,683.4C627.7,682.8 628.3,682.2 629.0,681.3C629.7,680.4 630.3,679.5 631.0,678.1C631.7,676.8 632.3,675.3 633.0,673.3C633.7,671.4 634.3,669.1 635.0,666.2C635.7,663.3 636.3,659.9 637.0,656.0C637.7,652.0 638.3,647.4 639.0,642.4C639.7,637.4 640.3,631.6 641.0,625.9C641.7,620.2 642.3,614.0 643.0,608.1C643.7,602.3 644.3,596.4 645.0,591.1C645.7,585.9 646.3,580.9 647.0,576.6C647.7,572.4 648.3,568.8 649.0,565.5C649.7,562.2 650.3,559.6 651.0,557.0C651.7,554.4 652.3,552.3 653.0,550.0C653.7,547.7 654.3,545.5 655.0,543.3C655.7,541.1 656.3,538.8 657.0,536.9C657.7,535.0 658.3,533.0 659.0,531.7C659.7,530.3 660.3,529.2 661.0,528.6C661.7,528.1 662.3,528.1 663.0,528.5C663.7,528.9 664.3,529.8 665.0,531.0C665.7,532.2 666.3,533.9 667.0,535.7C667.7,537.5 668.3,539.6 669.0,541.7C669.7,543.9 670.3,546.2 671.0,548.6C671.7,551.0 672.3,553.5 673.0,556.2C673.7,558.8 674.3,561.5 675.0,564.3C675.7,567.2 676.3,570.1 677.0,573.2C677.7,576.3 678.3,579.5 679.0,582.7C679.7,585.9 680.3,589.3 681.0,592.6C681.7,595.9 682.3,599.3 683.0,602.4C683.7,605.6 684.3,608.8 685.0,611.6C685.7,614.5 686.3,617.2 687.0,619.4C687.7,621.7 688.3,623.7 689.0,625.2C689.7,626.8 690.3,627.9 691.0,628.7C691.7,629.6 692.3,629.9 693.0,630.3C693.7,630.7 694.3,630.7 695.0,631.0C695.7,631.4 696.3,631.7 697.0,632.6C697.7,633.5 698.3,634.6 699.0,636.3C699.7,638.0 700.3,640.2 701.0,642.7C701.7,645.2 702.3,648.3 703.0,651.2C703.7,654.2 704.3,657.6 705.0,660.5C705.7,663.5 706.3,666.6 707.0,669.2C707.7,671.7 708.3,674.1 709.0,676.1C709.7,678.0 710.3,679.6 711.0,681.0C711.7,682.3 712.3,683.3 713.0,684.1C713.7,684.9 714.3,685.5 715.0,685.9C715.7,686.4 716.3,686.7 717.0,687.0C717.7,687.2 718.7,687.4 719.0,687.5L719.0,688.3L615.0,688.3Z" fill="#2ca02c" fill-opacity="0.25" stroke="#2ca02c" stroke-width="1.45" stroke-linejoin="round"/>
<path d="M554.8,687.4C555.1,687.3 556.1,687.1 556.8,687.0C557.5,686.8 558.1,686.6 558.8,686.4C559.5,686.2 560.1,686.0 560.8,685.7C561.5,685.4 562.1,685.2 562.8,684.8C563.5,684.5 564.1,684.2 564.8,683.8C565.5,683.4 566.1,683.0 566.8,682.6C567.5,682.2 568.1,681.8 568.8,681.3C569.5,680.9 570.1,680.4 570.8,680.0C571.5,679.5 572.1,679.0 572.8,678.5C573.5,678.0 574.1,677.5 574.8,677.0C575.5,676.4 576.1,675.9 576.8,675.3C577.5,674.6 578.1,674.0 578.8,673.3C579.5,672.5 580.1,671.7 580.8,670.8C581.5,669.8 582.1,668.8 582.8,667.6C583.5,666.4 584.1,665.1 584.8,663.6C585.5,662.2 586.1,660.6 586.8,658.9C587.5,657.2 588.1,655.3 588.8,653.4C589.5,651.6 590.1,649.6 590.8,647.7C591.5,645.8 592.1,643.8 592.8,641.9C593.5,640.0 594.1,638.2 594.8,636.5C595.5,634.7 596.1,633.0 596.8,631.4C597.5,629.8 598.1,628.3 598.8,626.8C599.5,625.3 600.1,623.9 600.8,622.4C601.5,621.0 602.1,619.6 602.8,618.2C603.5,616.8 604.1,615.4 604.8,614.0C605.5,612.7 606.1,611.4 606.8,610.2C607.5,609.0 608.1,607.9 608.8,607.0C609.5,606.0 610.1,605.2 610.8,604.6C611.5,604.1 612.1,603.7 612.8,603.5C613.5,603.4 614.1,603.4 614.8,603.7C615.5,604.0 616.1,604.5 616.8,605.2C617.5,605.9 618.1,606.9 618.8,607.9C619.5,609.0 620.1,610.2 620.8,611.5C621.5,612.9 622.1,614.4 622.8,615.9C623.5,617.4 624.1,619.1 624.8,620.8C625.5,622.5 626.1,624.2 626.8,626.0C627.5,627.8 628.1,629.6 628.8,631.4C629.5,633.3 630.1,635.1 630.8,636.9C631.5,638.7 632.1,640.5 632.8,642.3C633.5,644.0 634.1,645.8 634.8,647.4C635.5,649.0 636.1,650.6 636.8,652.1C637.5,653.6 638.1,655.1 638.8,656.4C639.5,657.7 640.1,658.9 640.8,660.1C641.5,661.3 642.1,662.3 642.8,663.3C643.5,664.3 644.1,665.2 644.8,666.1C645.5,666.9 646.1,667.7 646.8,668.5C647.5,669.2 648.1,669.9 648.8,670.6C649.5,671.3 650.1,672.0 650.8,672.7C651.5,673.3 652.1,674.0 652.8,674.6C653.5,675.3 654.1,675.9 654.8,676.5C655.5,677.2 656.1,677.8 656.8,678.4C657.5,679.0 658.1,679.6 658.8,680.2C659.5,680.8 660.1,681.3 660.8,681.8C661.5,682.3 662.1,682.8 662.8,683.3C663.5,683.7 664.1,684.2 664.8,684.5C665.5,684.9 666.1,685.3 666.8,685.6C667.5,685.9 668.1,686.2 668.8,686.4C669.5,686.6 670.1,686.8 670.8,687.0C671.5,687.2 672.1,687.3 672.8,687.5C673.5,687.6 674.5,687.7 674.8,687.8L674.8,688.3L554.8,688.3Z" fill="#ff7f0e" fill-opacity="0.25" stroke="#ff7f0e" stroke-width="1.45" stroke-linejoin="round"/>
<path d="M536.2,687.8C536.5,687.8 537.5,687.7 538.2,687.6C538.9,687.5 539.5,687.4 540.2,687.3C540.9,687.2 541.5,687.1 542.2,686.9C542.9,686.8 543.5,686.6 544.2,686.4C544.9,686.2 545.5,686.0 546.2,685.7C546.9,685.5 547.5,685.2 548.2,684.8C548.9,684.5 549.5,684.1 550.2,683.7C550.9,683.3 551.5,682.8 552.2,682.3C552.9,681.7 553.5,681.1 554.2,680.5C554.9,679.8 555.5,679.0 556.2,678.2C556.9,677.3 557.5,676.4 558.2,675.4C558.9,674.3 559.5,673.1 560.2,671.8C560.9,670.4 561.5,668.9 562.2,667.1C562.9,665.4 563.5,663.4 564.2,661.2C564.9,658.9 565.5,656.4 566.2,653.7C566.9,650.9 567.5,647.8 568.2,644.6C568.9,641.4 569.5,637.9 570.2,634.4C570.9,630.9 571.5,627.2 572.2,623.7C572.9,620.1 573.5,616.5 574.2,613.0C574.9,609.5 575.5,606.2 576.2,602.7C576.9,599.2 577.5,595.8 578.2,592.1C578.9,588.5 579.5,584.7 580.2,580.7C580.9,576.6 581.5,572.3 582.2,567.8C582.9,563.3 583.5,558.5 584.2,553.7C584.9,549.0 585.5,544.1 586.2,539.4C586.9,534.7 587.5,530.0 588.2,525.6C588.9,521.2 589.5,517.0 590.2,513.1C590.9,509.2 591.5,505.4 592.2,502.0C592.9,498.6 593.5,495.4 594.2,492.6C594.9,489.8 595.5,487.3 596.2,485.3C596.9,483.4 597.5,481.9 598.2,481.1C598.9,480.3 599.5,480.1 600.2,480.6C600.9,481.1 601.5,482.3 602.2,484.1C602.9,485.8 603.5,488.3 604.2,491.2C604.9,494.0 605.5,497.4 606.2,501.1C606.9,504.7 607.5,508.7 608.2,512.9C608.9,517.0 609.5,521.4 610.2,525.8C610.9,530.3 611.5,534.9 612.2,539.6C612.9,544.3 613.5,549.1 614.2,553.9C614.9,558.7 615.5,563.6 616.2,568.5C616.9,573.4 617.5,578.4 618.2,583.3C618.9,588.2 619.5,593.1 620.2,597.8C620.9,602.6 621.5,607.3 622.2,611.7C622.9,616.2 623.5,620.6 624.2,624.6C624.9,628.7 625.5,632.6 626.2,636.2C626.9,639.8 627.5,643.2 628.2,646.3C628.9,649.4 629.5,652.3 630.2,654.9C630.9,657.5 631.5,659.8 632.2,661.9C632.9,664.1 633.5,665.9 634.2,667.6C634.9,669.2 635.5,670.6 636.2,671.9C636.9,673.1 637.5,674.1 638.2,675.0C638.9,675.8 639.5,676.5 640.2,677.0C640.9,677.6 641.5,678.0 642.2,678.3C642.9,678.7 643.5,678.9 644.2,679.1C644.9,679.4 645.5,679.6 646.2,679.9C646.9,680.1 647.5,680.4 648.2,680.8C648.9,681.1 649.5,681.5 650.2,682.0C650.9,682.4 651.5,682.9 652.2,683.3C652.9,683.8 653.5,684.3 654.2,684.7C654.9,685.2 655.5,685.6 656.2,685.9C656.9,686.3 657.5,686.6 658.2,686.9C658.9,687.1 659.9,687.4 660.2,687.5L660.2,688.3L536.2,688.3Z" fill="#1f77b4" fill-opacity="0.25" stroke="#1f77b4" stroke-width="1.45" stroke-linejoin="round"/>
<text x="88.4" y="709.0" text-anchor="middle" textLength="17.5" lengthAdjust="spacingAndGlyphs">30</text>
<text x="142.7" y="709.0" text-anchor="middle" textLength="17.4" lengthAdjust="spacingAndGlyphs">40</text>
<text x="197.1" y="709.0" text-anchor="middle" textLength="17.5" lengthAdjust="spacingAndGlyphs">50</text>
<text x="251.4" y="709.0" text-anchor="middle" textLength="17.5" lengthAdjust="spacingAndGlyphs">60</text>
<text x="175.6" y="728.0" text-anchor="middle" textLength="103.8" lengthAdjust="spacingAndGlyphs">bill_length_mm</text>
<text x="302.2" y="709.0" text-anchor="middle" textLength="34.6" lengthAdjust="spacingAndGlyphs">2000</text>
<text x="380.8" y="709.0" text-anchor="middle" textLength="33.8" lengthAdjust="spacingAndGlyphs">4000</text>
<text x="459.3" y="709.0" text-anchor="middle" textLength="33.8" lengthAdjust="spacingAndGlyphs">6000</text>
<text x="401.0" y="728.0" text-anchor="middle" textLength="91.8" lengthAdjust="spacingAndGlyphs">body_mass_g</text>
<text x="560.8" y="709.0" text-anchor="middle" textLength="26.25" lengthAdjust="spacingAndGlyphs">175</text>
<text x="623.4" y="709.0" text-anchor="middle" textLength="26.25" lengthAdjust="spacingAndGlyphs">200</text>
<text x="686.0" y="709.0" text-anchor="middle" textLength="26.25" lengthAdjust="spacingAndGlyphs">225</text>
<text x="627.2" y="728.0" text-anchor="middle" textLength="127.8" lengthAdjust="spacingAndGlyphs">flipper_length_mm</text>
<text x="64.6" y="203.0" text-anchor="end" textLength="17.5" lengthAdjust="spacingAndGlyphs">35</text>
<text x="64.6" y="167.0" text-anchor="end" textLength="17.4" lengthAdjust="spacingAndGlyphs">40</text>
<text x="64.6" y="131.0" text-anchor="end" textLength="17.4" lengthAdjust="spacingAndGlyphs">45</text>
<text x="64.6" y="95.0" text-anchor="end" textLength="17.5" lengthAdjust="spacingAndGlyphs">50</text>
<text x="64.6" y="59.0" text-anchor="end" textLength="17.5" lengthAdjust="spacingAndGlyphs">55</text>
<text x="64.6" y="23.0" text-anchor="end" textLength="17.5" lengthAdjust="spacingAndGlyphs">60</text>
<text x="39.6" y="121.0" text-anchor="middle" textLength="103.8" lengthAdjust="spacingAndGlyphs" transform="rotate(-90 39.6 121.0)">bill_length_mm</text>
<text x="63.7" y="437.0" text-anchor="end" textLength="33.8" lengthAdjust="spacingAndGlyphs">3000</text>
<text x="63.7" y="382.0" text-anchor="end" textLength="33.8" lengthAdjust="spacingAndGlyphs">4000</text>
<text x="63.7" y="327.0" text-anchor="end" textLength="33.8" lengthAdjust="spacingAndGlyphs">5000</text>
<text x="63.7" y="272.0" text-anchor="end" textLength="33.8" lengthAdjust="spacingAndGlyphs">6000</text>
<text x="21.2" y="351.4" text-anchor="middle" textLength="91.8" lengthAdjust="spacingAndGlyphs" transform="rotate(-90 21.2 351.4)">body_mass_g</text>
<text x="64.4" y="690.0" text-anchor="end" textLength="26.25" lengthAdjust="spacingAndGlyphs">170</text>
<text x="64.4" y="656.0" text-anchor="end" textLength="26.25" lengthAdjust="spacingAndGlyphs">180</text>
<text x="64.4" y="623.0" text-anchor="end" textLength="26.25" lengthAdjust="spacingAndGlyphs">190</text>
<text x="64.4" y="589.0" text-anchor="end" textLength="26.25" lengthAdjust="spacingAndGlyphs">200</text>
<text x="64.4" y="556.0" text-anchor="end" textLength="26.25" lengthAdjust="spacingAndGlyphs">210</text>
<text x="64.4" y="522.0" text-anchor="end" textLength="26.25" lengthAdjust="spacingAndGlyphs">220</text>
<text x="64.4" y="489.0" text-anchor="end" textLength="26.25" lengthAdjust="spacingAndGlyphs">230</text>
<text x="29.2" y="580.9" text-anchor="middle" textLength="127.8" lengthAdjust="spacingAndGlyphs" transform="rotate(-90 29.2 580.9)">flipper_length_mm</text>
<text x="773.5" y="342.6" text-anchor="start" textLength="51.4" lengthAdjust="spacingAndGlyphs">species</text>
<circle cx="760.4" cy="360.3" r="4.35" fill="#1f77b4"/>
<text x="785.6" y="363.7" text-anchor="start" textLength="42.6" lengthAdjust="spacingAndGlyphs">Adelie</text>
<circle cx="760.4" cy="381.2" r="4.35" fill="#ff7f0e"/>
<text x="785.6" y="384.6" text-anchor="start" textLength="66.25" lengthAdjust="spacingAndGlyphs">Chinstrap</text>
<circle cx="760.4" cy="402.2" r="4.35" fill="#2ca02c"/>
<text x="785.6" y="405.2" text-anchor="start" textLength="50.0" lengthAdjust="spacingAndGlyphs">Gentoo</text>
</svg></body></html>
